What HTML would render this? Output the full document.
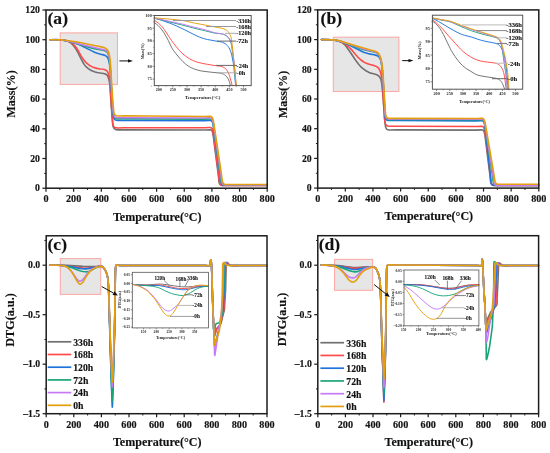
<!DOCTYPE html>
<html><head><meta charset="utf-8"><title>TGA/DTG</title>
<style>html,body{margin:0;padding:0;background:#fff;width:550px;height:453px;overflow:hidden}</style>
</head><body>
<svg width="550" height="453" viewBox="0 0 550 453" style="display:block;font-family:'Liberation Serif', 'Times New Roman', serif">
<rect width="550" height="453" fill="#fff"/>
<rect x="60.20" y="32.90" width="57.30" height="51.50" fill="#e6e6e6" stroke="#fbaaa6" stroke-width="1.05"/>
<path d="M50.10,39.70 L58.11,39.73 L60.50,39.84 L62.89,40.06 L65.26,40.46 L67.20,40.95 L68.69,41.53 L69.73,42.12 L71.01,43.07 L72.47,44.43 L73.79,45.93 L74.98,47.54 L76.27,49.57 L77.67,51.99 L80.82,58.47 L83.32,63.04 L84.17,64.39 L84.88,65.35 L85.67,66.26 L86.82,67.37 L88.38,68.61 L90.05,69.72 L91.80,70.68 L93.27,71.32 L95.16,71.98 L97.09,72.49 L100.25,73.04 L103.42,73.44 L104.58,73.71 L105.69,74.16 L106.37,74.56 L106.97,75.07 L107.46,75.68 L107.86,76.37 L108.17,77.10 L108.88,79.39 L109.37,81.74 L109.80,84.91 L110.07,88.10 L111.97,116.46 L112.81,124.82 L113.10,126.39 L113.52,127.50 L114.19,128.47 L114.78,128.99 L115.45,129.40 L116.18,129.68 L116.96,129.84 L118.15,129.92 L122.95,129.73 L203.80,129.98 L205.80,129.95 L209.40,129.78 L210.19,129.83 L210.94,130.01 L211.59,130.38 L211.86,130.65 L212.27,131.30 L212.65,132.42 L212.88,133.60 L213.41,137.16 L218.48,176.46 L218.99,181.64 L219.13,182.42 L219.35,183.19 L219.67,183.91 L220.12,184.54 L220.71,185.04 L221.05,185.22 L221.79,185.44 L222.57,185.50 L267.00,185.50" fill="none" stroke="#707070" stroke-width="1.60" stroke-linejoin="round" stroke-linecap="round"/>
<path d="M50.10,39.70 L58.50,39.75 L61.70,39.91 L63.69,40.10 L65.66,40.46 L67.20,40.88 L68.70,41.44 L70.49,42.33 L71.85,43.17 L73.11,44.15 L74.25,45.27 L75.30,46.48 L76.51,48.07 L77.63,49.73 L78.44,51.10 L80.93,55.67 L83.34,59.35 L84.31,60.63 L85.36,61.83 L86.50,62.96 L88.01,64.26 L89.30,65.21 L90.65,66.06 L91.72,66.62 L93.19,67.23 L95.09,67.87 L97.03,68.36 L100.18,68.93 L103.35,69.33 L104.51,69.59 L105.61,70.05 L106.29,70.47 L106.89,70.98 L107.40,71.58 L107.81,72.25 L108.14,72.98 L108.77,74.88 L109.29,77.22 L109.69,79.99 L110.14,84.77 L112.28,117.52 L112.77,123.10 L112.92,124.29 L113.20,125.45 L113.52,126.16 L113.73,126.48 L114.28,127.02 L114.95,127.41 L115.69,127.68 L116.87,127.90 L118.06,127.96 L123.26,127.79 L204.11,127.71 L209.30,127.48 L210.09,127.52 L210.86,127.67 L211.53,128.01 L211.81,128.26 L212.26,128.88 L212.68,129.99 L212.92,131.16 L213.50,135.12 L218.87,176.39 L219.37,181.57 L219.51,182.36 L219.72,183.12 L220.05,183.83 L220.51,184.46 L221.11,184.95 L221.81,185.25 L222.58,185.37 L223.38,185.40 L267.00,185.40" fill="none" stroke="#ff4a4a" stroke-width="1.60" stroke-linejoin="round" stroke-linecap="round"/>
<path d="M50.10,39.70 L58.10,39.73 L60.50,39.84 L62.49,40.03 L64.87,40.38 L66.83,40.77 L69.94,41.53 L73.02,42.40 L76.43,43.56 L80.11,45.12 L93.40,51.65 L95.23,52.47 L96.72,53.03 L98.25,53.52 L100.56,54.18 L103.27,54.86 L104.79,55.37 L106.19,56.11 L106.81,56.60 L107.33,57.19 L107.75,57.86 L108.09,58.58 L108.48,59.71 L108.92,61.25 L109.49,63.99 L110.00,67.56 L110.29,70.34 L110.52,73.54 L112.76,110.69 L113.32,115.46 L113.68,117.42 L113.90,118.19 L114.23,118.90 L114.69,119.50 L114.99,119.74 L115.68,120.09 L116.44,120.29 L117.62,120.45 L118.82,120.51 L124.02,120.41 L204.06,120.59 L209.26,120.41 L210.44,120.49 L211.18,120.70 L211.80,121.12 L212.05,121.40 L212.43,122.07 L212.79,123.21 L213.09,124.78 L213.66,128.33 L220.16,175.51 L220.76,181.08 L221.00,182.25 L221.26,183.00 L221.62,183.70 L222.10,184.32 L222.70,184.80 L223.05,184.97 L223.79,185.16 L224.58,185.22 L267.00,185.20" fill="none" stroke="#1f74dc" stroke-width="1.60" stroke-linejoin="round" stroke-linecap="round"/>
<path d="M50.10,39.70 L56.10,39.63 L59.30,39.75 L60.89,39.91 L62.87,40.21 L66.79,41.00 L70.68,41.92 L73.39,42.65 L86.80,46.67 L90.27,47.64 L93.39,48.35 L103.97,50.49 L105.09,50.90 L105.79,51.27 L106.75,51.97 L107.29,52.54 L107.74,53.19 L108.09,53.91 L108.57,55.42 L109.02,57.78 L109.61,61.74 L109.97,65.32 L110.48,72.10 L111.29,86.48 L112.57,105.64 L112.87,109.23 L113.53,114.39 L113.80,115.96 L114.02,116.73 L114.35,117.43 L114.83,118.02 L115.13,118.24 L115.84,118.55 L116.61,118.73 L117.79,118.86 L118.99,118.91 L124.19,118.82 L204.21,119.08 L209.40,118.92 L210.59,119.02 L211.31,119.26 L211.92,119.70 L212.36,120.32 L212.75,121.43 L213.07,123.00 L213.76,127.34 L220.51,174.87 L221.15,180.44 L221.38,181.61 L221.60,182.37 L222.10,183.46 L222.55,184.09 L223.13,184.59 L223.47,184.76 L224.21,184.96 L224.99,185.01 L267.00,185.00" fill="none" stroke="#19a676" stroke-width="1.60" stroke-linejoin="round" stroke-linecap="round"/>
<path d="M50.10,39.70 L56.10,39.64 L59.30,39.75 L62.88,40.17 L67.21,40.96 L72.29,42.09 L80.41,44.23 L89.74,46.52 L100.28,48.92 L103.80,49.66 L104.94,50.03 L105.66,50.36 L106.66,51.00 L107.24,51.54 L107.72,52.16 L108.09,52.86 L108.38,53.60 L108.70,54.75 L109.49,59.08 L109.93,62.66 L110.60,71.44 L111.30,85.03 L112.65,105.79 L113.04,110.18 L113.55,113.34 L114.00,115.28 L114.47,116.36 L114.96,116.94 L115.26,117.17 L115.96,117.48 L116.74,117.64 L117.93,117.77 L119.12,117.80 L123.13,117.73 L127.93,117.74 L203.97,118.07 L209.17,117.89 L210.35,117.96 L211.09,118.17 L211.43,118.35 L211.98,118.86 L212.20,119.17 L212.53,119.88 L212.98,121.41 L213.53,124.16 L220.95,175.25 L221.54,180.42 L221.77,181.59 L222.00,182.36 L222.49,183.44 L222.94,184.07 L223.52,184.58 L223.85,184.75 L224.59,184.95 L225.38,185.00 L267.00,185.00" fill="none" stroke="#c77af5" stroke-width="1.60" stroke-linejoin="round" stroke-linecap="round"/>
<path d="M50.10,39.70 L57.31,39.70 L61.70,39.92 L64.89,40.23 L68.47,40.67 L72.04,41.17 L75.99,41.82 L82.29,42.99 L90.52,44.70 L98.38,46.22 L102.68,47.15 L104.21,47.62 L105.28,48.14 L106.28,48.80 L107.16,49.61 L107.65,50.23 L108.06,50.91 L108.65,52.39 L109.39,55.50 L109.92,58.66 L110.26,61.84 L110.68,67.03 L111.52,81.82 L112.83,101.39 L113.25,106.58 L113.76,111.36 L114.03,112.93 L114.27,113.69 L114.63,114.38 L114.86,114.69 L115.44,115.19 L116.14,115.55 L116.89,115.77 L118.08,115.93 L119.28,115.98 L124.48,115.92 L150.50,116.00 L204.55,116.44 L209.35,116.30 L210.53,116.40 L211.27,116.63 L211.59,116.83 L212.14,117.35 L212.69,118.39 L213.15,119.92 L213.72,122.66 L221.60,175.32 L222.17,180.09 L222.41,181.26 L222.66,182.02 L222.99,182.74 L223.41,183.40 L223.95,183.95 L224.62,184.31 L225.37,184.46 L226.56,184.52 L267.00,184.50" fill="none" stroke="#e3a00c" stroke-width="1.60" stroke-linejoin="round" stroke-linecap="round"/>
<rect x="46.00" y="10.00" width="221.20" height="178.20" fill="none" stroke="#1c1c1c" stroke-width="1.50"/>
<line x1="46.00" y1="188.20" x2="46.00" y2="191.70" stroke="#1c1c1c" stroke-width="1.20"/>
<text x="46.00" y="202.40" font-size="10.20" text-anchor="middle" font-weight="bold" fill="#111" stroke="#111" stroke-width="0.15">0</text>
<line x1="59.83" y1="188.20" x2="59.83" y2="190.00" stroke="#1c1c1c" stroke-width="1.00"/>
<line x1="73.65" y1="188.20" x2="73.65" y2="191.70" stroke="#1c1c1c" stroke-width="1.20"/>
<text x="73.65" y="202.40" font-size="10.20" text-anchor="middle" font-weight="bold" fill="#111" stroke="#111" stroke-width="0.15">200</text>
<line x1="87.48" y1="188.20" x2="87.48" y2="190.00" stroke="#1c1c1c" stroke-width="1.00"/>
<line x1="101.30" y1="188.20" x2="101.30" y2="191.70" stroke="#1c1c1c" stroke-width="1.20"/>
<text x="101.30" y="202.40" font-size="10.20" text-anchor="middle" font-weight="bold" fill="#111" stroke="#111" stroke-width="0.15">400</text>
<line x1="115.12" y1="188.20" x2="115.12" y2="190.00" stroke="#1c1c1c" stroke-width="1.00"/>
<line x1="128.95" y1="188.20" x2="128.95" y2="191.70" stroke="#1c1c1c" stroke-width="1.20"/>
<text x="128.95" y="202.40" font-size="10.20" text-anchor="middle" font-weight="bold" fill="#111" stroke="#111" stroke-width="0.15">600</text>
<line x1="142.77" y1="188.20" x2="142.77" y2="190.00" stroke="#1c1c1c" stroke-width="1.00"/>
<line x1="156.60" y1="188.20" x2="156.60" y2="191.70" stroke="#1c1c1c" stroke-width="1.20"/>
<text x="156.60" y="202.40" font-size="10.20" text-anchor="middle" font-weight="bold" fill="#111" stroke="#111" stroke-width="0.15">600</text>
<line x1="170.42" y1="188.20" x2="170.42" y2="190.00" stroke="#1c1c1c" stroke-width="1.00"/>
<line x1="184.25" y1="188.20" x2="184.25" y2="191.70" stroke="#1c1c1c" stroke-width="1.20"/>
<text x="184.25" y="202.40" font-size="10.20" text-anchor="middle" font-weight="bold" fill="#111" stroke="#111" stroke-width="0.15">600</text>
<line x1="198.07" y1="188.20" x2="198.07" y2="190.00" stroke="#1c1c1c" stroke-width="1.00"/>
<line x1="211.90" y1="188.20" x2="211.90" y2="191.70" stroke="#1c1c1c" stroke-width="1.20"/>
<text x="211.90" y="202.40" font-size="10.20" text-anchor="middle" font-weight="bold" fill="#111" stroke="#111" stroke-width="0.15">800</text>
<line x1="225.72" y1="188.20" x2="225.72" y2="190.00" stroke="#1c1c1c" stroke-width="1.00"/>
<line x1="239.55" y1="188.20" x2="239.55" y2="191.70" stroke="#1c1c1c" stroke-width="1.20"/>
<text x="239.55" y="202.40" font-size="10.20" text-anchor="middle" font-weight="bold" fill="#111" stroke="#111" stroke-width="0.15">800</text>
<line x1="253.37" y1="188.20" x2="253.37" y2="190.00" stroke="#1c1c1c" stroke-width="1.00"/>
<line x1="267.20" y1="188.20" x2="267.20" y2="191.70" stroke="#1c1c1c" stroke-width="1.20"/>
<text x="267.20" y="202.40" font-size="10.20" text-anchor="middle" font-weight="bold" fill="#111" stroke="#111" stroke-width="0.15">800</text>
<line x1="42.40" y1="188.20" x2="46.00" y2="188.20" stroke="#1c1c1c" stroke-width="1.20"/>
<text transform="translate(40.00 191.45) scale(0.930 1)" font-size="10.51" text-anchor="end" font-weight="bold" fill="#111" stroke="#111" stroke-width="0.15">0</text>
<line x1="42.40" y1="158.50" x2="46.00" y2="158.50" stroke="#1c1c1c" stroke-width="1.20"/>
<text transform="translate(40.00 161.75) scale(0.930 1)" font-size="10.51" text-anchor="end" font-weight="bold" fill="#111" stroke="#111" stroke-width="0.15">20</text>
<line x1="42.40" y1="128.80" x2="46.00" y2="128.80" stroke="#1c1c1c" stroke-width="1.20"/>
<text transform="translate(40.00 132.05) scale(0.930 1)" font-size="10.51" text-anchor="end" font-weight="bold" fill="#111" stroke="#111" stroke-width="0.15">40</text>
<line x1="42.40" y1="99.10" x2="46.00" y2="99.10" stroke="#1c1c1c" stroke-width="1.20"/>
<text transform="translate(40.00 102.35) scale(0.930 1)" font-size="10.51" text-anchor="end" font-weight="bold" fill="#111" stroke="#111" stroke-width="0.15">60</text>
<line x1="42.40" y1="69.40" x2="46.00" y2="69.40" stroke="#1c1c1c" stroke-width="1.20"/>
<text transform="translate(40.00 72.65) scale(0.930 1)" font-size="10.51" text-anchor="end" font-weight="bold" fill="#111" stroke="#111" stroke-width="0.15">80</text>
<line x1="42.40" y1="39.70" x2="46.00" y2="39.70" stroke="#1c1c1c" stroke-width="1.20"/>
<text transform="translate(40.00 42.95) scale(0.930 1)" font-size="10.51" text-anchor="end" font-weight="bold" fill="#111" stroke="#111" stroke-width="0.15">100</text>
<line x1="42.40" y1="10.00" x2="46.00" y2="10.00" stroke="#1c1c1c" stroke-width="1.20"/>
<text transform="translate(40.00 13.25) scale(0.930 1)" font-size="10.51" text-anchor="end" font-weight="bold" fill="#111" stroke="#111" stroke-width="0.15">120</text>
<line x1="44.20" y1="173.35" x2="46.00" y2="173.35" stroke="#1c1c1c" stroke-width="1.00"/>
<line x1="44.20" y1="143.65" x2="46.00" y2="143.65" stroke="#1c1c1c" stroke-width="1.00"/>
<line x1="44.20" y1="113.95" x2="46.00" y2="113.95" stroke="#1c1c1c" stroke-width="1.00"/>
<line x1="44.20" y1="84.25" x2="46.00" y2="84.25" stroke="#1c1c1c" stroke-width="1.00"/>
<line x1="44.20" y1="54.55" x2="46.00" y2="54.55" stroke="#1c1c1c" stroke-width="1.00"/>
<line x1="44.20" y1="24.85" x2="46.00" y2="24.85" stroke="#1c1c1c" stroke-width="1.00"/>
<line x1="119.40" y1="60.90" x2="130.00" y2="60.90" stroke="#222" stroke-width="1.10"/>
<path d="M128.00,59.30 L133.00,60.90 L128.00,62.50 Z" fill="#111"/>
<text x="47.50" y="24.40" font-size="17.60" text-anchor="start" font-weight="bold" fill="#111" stroke="#111" stroke-width="0.15">(a)</text>
<text x="157.20" y="220.50" font-size="12.70" text-anchor="middle" font-weight="bold" fill="#111" stroke="#111" stroke-width="0.15" textLength="88.6" lengthAdjust="spacingAndGlyphs">Temperature(°C)</text>
<text x="14.60" y="94.00" font-size="12.20" text-anchor="middle" font-weight="bold" fill="#111" stroke="#111" stroke-width="0.15" transform="rotate(-90 14.60 94.00)">Mass(%)</text>
<rect x="333.30" y="37.20" width="65.60" height="54.30" fill="#e6e6e6" stroke="#fbaaa6" stroke-width="1.05"/>
<path d="M321.40,39.60 L330.60,39.76 L332.59,39.87 L334.58,40.11 L336.54,40.50 L338.85,41.13 L340.34,41.71 L342.09,42.67 L343.40,43.59 L344.31,44.36 L345.16,45.21 L346.20,46.42 L349.46,50.98 L354.98,59.31 L356.60,61.60 L358.03,63.52 L359.29,65.07 L360.37,66.26 L361.52,67.37 L362.72,68.42 L364.31,69.64 L365.97,70.75 L367.35,71.55 L369.15,72.42 L371.02,73.13 L372.55,73.58 L375.28,74.20 L376.78,74.75 L377.83,75.31 L378.47,75.77 L379.05,76.31 L379.56,76.93 L380.38,78.29 L380.96,79.77 L381.42,81.72 L381.93,84.88 L382.37,88.85 L383.02,96.42 L384.93,122.75 L385.36,125.52 L385.80,127.46 L386.26,128.55 L386.75,129.13 L387.05,129.36 L387.75,129.67 L388.52,129.83 L389.71,129.95 L390.91,129.99 L396.11,129.91 L476.11,130.08 L480.90,129.87 L481.70,129.89 L482.46,130.02 L483.14,130.33 L483.42,130.58 L483.65,130.87 L484.02,131.56 L484.50,133.07 L484.97,135.43 L490.14,176.70 L490.63,181.87 L490.79,182.65 L491.03,183.41 L491.39,184.11 L491.88,184.71 L492.50,185.16 L492.85,185.31 L493.61,185.48 L494.40,185.52 L538.80,185.50" fill="none" stroke="#707070" stroke-width="1.60" stroke-linejoin="round" stroke-linecap="round"/>
<path d="M321.40,39.60 L330.60,39.77 L333.00,39.91 L334.99,40.13 L336.56,40.41 L338.49,40.94 L340.36,41.63 L342.55,42.62 L344.31,43.58 L345.97,44.68 L347.55,45.91 L349.36,47.49 L350.79,48.89 L352.42,50.64 L355.70,54.68 L357.85,57.05 L360.17,59.26 L362.67,61.25 L363.67,61.92 L364.71,62.51 L365.79,63.03 L367.27,63.63 L369.18,64.24 L373.82,65.46 L375.70,66.13 L376.77,66.66 L377.43,67.10 L378.03,67.62 L378.56,68.21 L379.01,68.86 L379.59,69.91 L380.08,71.01 L380.48,72.14 L381.07,74.46 L381.68,78.01 L382.11,81.99 L382.75,89.97 L384.13,111.13 L384.50,118.32 L384.94,121.49 L385.33,123.45 L385.75,124.55 L386.19,125.19 L386.47,125.44 L387.13,125.82 L387.88,126.03 L389.47,126.23 L391.06,126.30 L395.06,126.24 L399.87,126.24 L475.90,126.57 L477.50,126.54 L481.09,126.36 L481.88,126.40 L482.63,126.57 L482.97,126.73 L483.52,127.22 L484.06,128.25 L484.53,129.77 L485.08,132.52 L490.49,176.20 L491.01,181.78 L491.16,182.56 L491.40,183.31 L491.76,184.01 L492.25,184.61 L492.88,185.05 L493.23,185.20 L493.99,185.36 L494.78,185.41 L538.80,185.40" fill="none" stroke="#ff4a4a" stroke-width="1.60" stroke-linejoin="round" stroke-linecap="round"/>
<path d="M321.40,39.60 L329.00,39.68 L332.60,39.87 L334.99,40.14 L336.96,40.44 L338.92,40.83 L340.86,41.33 L343.11,42.17 L346.74,43.84 L359.61,50.31 L363.61,52.15 L365.49,52.85 L367.80,53.50 L370.53,54.12 L374.07,54.77 L376.39,55.37 L377.13,55.67 L377.82,56.05 L378.45,56.53 L379.26,57.40 L380.12,58.74 L380.89,60.58 L381.39,62.52 L381.79,65.29 L382.37,70.86 L382.95,78.84 L384.50,109.22 L384.97,116.00 L385.18,117.59 L385.50,118.72 L385.89,119.38 L386.46,119.87 L387.16,120.18 L387.93,120.36 L389.92,120.53 L395.12,120.44 L475.96,120.86 L481.16,120.66 L481.95,120.71 L482.69,120.89 L483.03,121.06 L483.57,121.56 L483.78,121.88 L484.10,122.59 L484.51,124.13 L485.04,127.29 L490.42,176.22 L490.82,181.40 L490.94,182.19 L491.15,182.96 L491.46,183.68 L491.91,184.31 L492.50,184.79 L492.84,184.96 L493.59,185.16 L494.38,185.21 L538.80,185.20" fill="none" stroke="#1f74dc" stroke-width="1.60" stroke-linejoin="round" stroke-linecap="round"/>
<path d="M321.40,39.60 L328.21,39.61 L331.40,39.74 L333.00,39.91 L334.58,40.16 L337.70,40.86 L341.17,41.84 L344.99,43.04 L358.17,47.79 L361.58,48.94 L365.05,49.90 L374.02,52.00 L375.17,52.33 L376.28,52.79 L377.32,53.37 L377.96,53.84 L378.51,54.40 L378.98,55.04 L379.53,56.10 L379.96,57.22 L380.44,58.75 L380.85,60.29 L381.18,61.86 L381.77,65.82 L382.36,70.99 L382.96,78.17 L384.61,105.34 L384.79,111.34 L384.94,113.74 L385.16,115.32 L385.34,116.10 L385.60,116.85 L385.95,117.56 L386.40,118.21 L387.26,119.01 L388.31,119.52 L389.08,119.70 L389.87,119.76 L393.87,119.54 L395.47,119.52 L475.93,119.78 L481.13,119.58 L481.92,119.62 L482.68,119.79 L483.32,120.16 L483.79,120.74 L484.24,121.83 L484.58,123.39 L485.34,128.13 L492.43,175.65 L493.15,181.61 L493.53,183.15 L493.85,183.87 L494.30,184.50 L494.89,184.99 L495.23,185.16 L495.98,185.37 L496.77,185.43 L538.80,185.40" fill="none" stroke="#19a676" stroke-width="1.60" stroke-linejoin="round" stroke-linecap="round"/>
<path d="M321.40,39.60 L328.60,39.64 L331.80,39.79 L333.39,39.96 L335.36,40.26 L339.66,41.20 L343.14,42.13 L345.43,42.82 L357.93,47.07 L362.13,48.40 L367.53,49.89 L374.89,51.74 L376.00,52.18 L376.70,52.56 L377.67,53.25 L378.23,53.81 L378.72,54.44 L379.33,55.47 L379.82,56.56 L380.37,58.06 L380.70,59.21 L381.05,60.77 L381.76,65.11 L382.31,69.88 L382.81,75.86 L383.64,88.63 L384.62,105.40 L384.80,111.00 L384.95,113.40 L385.19,114.98 L385.38,115.75 L385.66,116.49 L386.03,117.19 L386.50,117.82 L387.39,118.59 L388.46,119.07 L389.23,119.22 L390.02,119.26 L393.62,119.05 L395.21,119.02 L475.62,119.28 L477.62,119.25 L481.21,119.08 L482.00,119.13 L482.75,119.31 L483.40,119.69 L483.66,119.96 L484.08,120.60 L484.48,121.72 L484.81,123.28 L485.56,127.62 L493.16,176.23 L493.80,181.39 L494.15,182.94 L494.45,183.67 L494.86,184.34 L495.40,184.89 L496.06,185.27 L496.81,185.46 L497.60,185.51 L538.80,185.50" fill="none" stroke="#c77af5" stroke-width="1.60" stroke-linejoin="round" stroke-linecap="round"/>
<path d="M321.40,39.60 L329.40,39.76 L332.60,39.88 L336.19,40.16 L338.55,40.56 L353.12,44.92 L363.44,48.10 L370.38,50.02 L375.04,51.19 L376.14,51.65 L376.83,52.04 L377.78,52.76 L378.33,53.33 L378.81,53.97 L379.42,55.00 L380.10,56.44 L380.53,57.56 L380.99,59.09 L381.37,60.65 L381.77,62.61 L382.08,64.58 L382.60,68.96 L382.99,73.74 L383.58,82.92 L385.02,107.69 L385.48,113.27 L385.79,115.25 L386.17,116.37 L386.58,117.04 L386.83,117.33 L387.43,117.82 L387.77,118.00 L388.51,118.26 L389.29,118.38 L390.09,118.42 L395.28,118.22 L475.71,118.48 L477.71,118.45 L480.91,118.29 L482.09,118.35 L482.84,118.54 L483.49,118.93 L483.76,119.19 L484.19,119.83 L484.63,120.94 L485.09,122.88 L485.91,127.21 L494.01,174.94 L494.78,180.49 L495.18,182.03 L495.50,182.75 L495.95,183.39 L496.53,183.89 L496.86,184.07 L497.60,184.27 L498.39,184.31 L538.80,184.30" fill="none" stroke="#e3a00c" stroke-width="1.60" stroke-linejoin="round" stroke-linecap="round"/>
<rect x="317.70" y="9.90" width="221.10" height="178.20" fill="none" stroke="#1c1c1c" stroke-width="1.50"/>
<line x1="317.70" y1="188.10" x2="317.70" y2="191.60" stroke="#1c1c1c" stroke-width="1.20"/>
<text x="317.70" y="202.30" font-size="10.20" text-anchor="middle" font-weight="bold" fill="#111" stroke="#111" stroke-width="0.15">0</text>
<line x1="331.52" y1="188.10" x2="331.52" y2="189.90" stroke="#1c1c1c" stroke-width="1.00"/>
<line x1="345.34" y1="188.10" x2="345.34" y2="191.60" stroke="#1c1c1c" stroke-width="1.20"/>
<text x="345.34" y="202.30" font-size="10.20" text-anchor="middle" font-weight="bold" fill="#111" stroke="#111" stroke-width="0.15">200</text>
<line x1="359.16" y1="188.10" x2="359.16" y2="189.90" stroke="#1c1c1c" stroke-width="1.00"/>
<line x1="372.97" y1="188.10" x2="372.97" y2="191.60" stroke="#1c1c1c" stroke-width="1.20"/>
<text x="372.97" y="202.30" font-size="10.20" text-anchor="middle" font-weight="bold" fill="#111" stroke="#111" stroke-width="0.15">400</text>
<line x1="386.79" y1="188.10" x2="386.79" y2="189.90" stroke="#1c1c1c" stroke-width="1.00"/>
<line x1="400.61" y1="188.10" x2="400.61" y2="191.60" stroke="#1c1c1c" stroke-width="1.20"/>
<text x="400.61" y="202.30" font-size="10.20" text-anchor="middle" font-weight="bold" fill="#111" stroke="#111" stroke-width="0.15">600</text>
<line x1="414.43" y1="188.10" x2="414.43" y2="189.90" stroke="#1c1c1c" stroke-width="1.00"/>
<line x1="428.25" y1="188.10" x2="428.25" y2="191.60" stroke="#1c1c1c" stroke-width="1.20"/>
<text x="428.25" y="202.30" font-size="10.20" text-anchor="middle" font-weight="bold" fill="#111" stroke="#111" stroke-width="0.15">600</text>
<line x1="442.07" y1="188.10" x2="442.07" y2="189.90" stroke="#1c1c1c" stroke-width="1.00"/>
<line x1="455.89" y1="188.10" x2="455.89" y2="191.60" stroke="#1c1c1c" stroke-width="1.20"/>
<text x="455.89" y="202.30" font-size="10.20" text-anchor="middle" font-weight="bold" fill="#111" stroke="#111" stroke-width="0.15">600</text>
<line x1="469.71" y1="188.10" x2="469.71" y2="189.90" stroke="#1c1c1c" stroke-width="1.00"/>
<line x1="483.52" y1="188.10" x2="483.52" y2="191.60" stroke="#1c1c1c" stroke-width="1.20"/>
<text x="483.52" y="202.30" font-size="10.20" text-anchor="middle" font-weight="bold" fill="#111" stroke="#111" stroke-width="0.15">800</text>
<line x1="497.34" y1="188.10" x2="497.34" y2="189.90" stroke="#1c1c1c" stroke-width="1.00"/>
<line x1="511.16" y1="188.10" x2="511.16" y2="191.60" stroke="#1c1c1c" stroke-width="1.20"/>
<text x="511.16" y="202.30" font-size="10.20" text-anchor="middle" font-weight="bold" fill="#111" stroke="#111" stroke-width="0.15">800</text>
<line x1="524.98" y1="188.10" x2="524.98" y2="189.90" stroke="#1c1c1c" stroke-width="1.00"/>
<line x1="538.80" y1="188.10" x2="538.80" y2="191.60" stroke="#1c1c1c" stroke-width="1.20"/>
<text x="538.80" y="202.30" font-size="10.20" text-anchor="middle" font-weight="bold" fill="#111" stroke="#111" stroke-width="0.15">800</text>
<line x1="314.10" y1="188.10" x2="317.70" y2="188.10" stroke="#1c1c1c" stroke-width="1.20"/>
<text transform="translate(311.70 191.35) scale(0.930 1)" font-size="10.51" text-anchor="end" font-weight="bold" fill="#111" stroke="#111" stroke-width="0.15">0</text>
<line x1="314.10" y1="158.40" x2="317.70" y2="158.40" stroke="#1c1c1c" stroke-width="1.20"/>
<text transform="translate(311.70 161.65) scale(0.930 1)" font-size="10.51" text-anchor="end" font-weight="bold" fill="#111" stroke="#111" stroke-width="0.15">20</text>
<line x1="314.10" y1="128.70" x2="317.70" y2="128.70" stroke="#1c1c1c" stroke-width="1.20"/>
<text transform="translate(311.70 131.95) scale(0.930 1)" font-size="10.51" text-anchor="end" font-weight="bold" fill="#111" stroke="#111" stroke-width="0.15">40</text>
<line x1="314.10" y1="99.00" x2="317.70" y2="99.00" stroke="#1c1c1c" stroke-width="1.20"/>
<text transform="translate(311.70 102.25) scale(0.930 1)" font-size="10.51" text-anchor="end" font-weight="bold" fill="#111" stroke="#111" stroke-width="0.15">60</text>
<line x1="314.10" y1="69.30" x2="317.70" y2="69.30" stroke="#1c1c1c" stroke-width="1.20"/>
<text transform="translate(311.70 72.55) scale(0.930 1)" font-size="10.51" text-anchor="end" font-weight="bold" fill="#111" stroke="#111" stroke-width="0.15">80</text>
<line x1="314.10" y1="39.60" x2="317.70" y2="39.60" stroke="#1c1c1c" stroke-width="1.20"/>
<text transform="translate(311.70 42.85) scale(0.930 1)" font-size="10.51" text-anchor="end" font-weight="bold" fill="#111" stroke="#111" stroke-width="0.15">100</text>
<line x1="314.10" y1="9.90" x2="317.70" y2="9.90" stroke="#1c1c1c" stroke-width="1.20"/>
<text transform="translate(311.70 13.15) scale(0.930 1)" font-size="10.51" text-anchor="end" font-weight="bold" fill="#111" stroke="#111" stroke-width="0.15">120</text>
<line x1="315.90" y1="173.25" x2="317.70" y2="173.25" stroke="#1c1c1c" stroke-width="1.00"/>
<line x1="315.90" y1="143.55" x2="317.70" y2="143.55" stroke="#1c1c1c" stroke-width="1.00"/>
<line x1="315.90" y1="113.85" x2="317.70" y2="113.85" stroke="#1c1c1c" stroke-width="1.00"/>
<line x1="315.90" y1="84.15" x2="317.70" y2="84.15" stroke="#1c1c1c" stroke-width="1.00"/>
<line x1="315.90" y1="54.45" x2="317.70" y2="54.45" stroke="#1c1c1c" stroke-width="1.00"/>
<line x1="315.90" y1="24.75" x2="317.70" y2="24.75" stroke="#1c1c1c" stroke-width="1.00"/>
<line x1="402.20" y1="60.60" x2="410.50" y2="60.60" stroke="#222" stroke-width="1.10"/>
<path d="M408.50,59.00 L413.50,60.60 L408.50,62.20 Z" fill="#111"/>
<text x="320.60" y="24.40" font-size="17.60" text-anchor="start" font-weight="bold" fill="#111" stroke="#111" stroke-width="0.15">(b)</text>
<text x="428.85" y="220.40" font-size="12.70" text-anchor="middle" font-weight="bold" fill="#111" stroke="#111" stroke-width="0.15" textLength="88.6" lengthAdjust="spacingAndGlyphs">Temperature(°C)</text>
<text x="286.90" y="94.50" font-size="12.20" text-anchor="middle" font-weight="bold" fill="#111" stroke="#111" stroke-width="0.15" transform="rotate(-90 286.90 94.50)">Mass(%)</text>
<rect x="154.30" y="15.50" width="96.90" height="70.10" fill="#fff" stroke="none"/>
<path d="M154.30,22.50 L156.84,24.46 L158.34,25.78 L160.27,27.82 L162.04,30.00 L164.10,32.97 L166.14,36.42 L168.22,40.31 L171.50,47.19 L172.49,48.93 L173.59,50.61 L176.02,53.80 L180.16,58.71 L182.93,61.61 L185.61,64.03 L186.87,65.02 L188.19,65.93 L189.55,66.77 L191.32,67.71 L192.78,68.38 L194.64,69.12 L198.09,70.20 L200.82,70.85 L203.99,71.35 L211.16,72.19 L219.54,73.01 L221.49,73.44 L223.36,74.14 L224.76,74.91 L225.70,75.63 L226.80,76.79 L227.71,78.10 L228.65,79.86 L229.25,81.34 L229.72,82.88 L230.40,85.60" fill="none" stroke="#707070" stroke-width="0.95" stroke-linejoin="round" stroke-linecap="round"/>
<path d="M154.30,20.20 L156.92,22.04 L158.50,23.28 L160.58,25.15 L162.24,26.89 L163.26,28.12 L164.44,29.74 L169.70,37.79 L171.73,40.77 L173.87,43.67 L176.35,46.82 L179.48,50.47 L181.68,52.80 L184.07,54.93 L186.96,57.09 L189.67,58.80 L192.50,60.30 L195.08,61.40 L197.74,62.28 L201.62,63.26 L207.53,64.37 L213.85,65.42 L219.02,66.02 L220.60,66.30 L222.13,66.74 L223.25,67.18 L224.31,67.72 L225.29,68.39 L226.15,69.21 L227.10,70.47 L227.88,71.87 L228.86,74.06 L229.43,75.56 L230.03,77.47 L232.20,85.60" fill="none" stroke="#ff4a4a" stroke-width="0.95" stroke-linejoin="round" stroke-linecap="round"/>
<path d="M154.30,18.30 L158.18,19.26 L162.01,20.41 L169.94,23.21 L173.30,24.50 L176.23,25.79 L183.11,29.02 L193.11,34.07 L197.07,36.00 L199.26,36.98 L201.12,37.70 L204.55,38.80 L207.66,39.56 L215.14,40.92 L219.49,41.60 L221.43,42.03 L222.57,42.41 L224.02,43.06 L225.39,43.87 L226.35,44.59 L227.22,45.41 L228.24,46.63 L228.90,47.62 L229.66,49.03 L230.31,50.49 L230.87,51.99 L231.44,53.90 L231.92,55.84 L233.07,61.73 L233.86,67.28 L234.48,72.84 L235.60,85.60" fill="none" stroke="#1f74dc" stroke-width="0.95" stroke-linejoin="round" stroke-linecap="round"/>
<path d="M154.30,18.00 L167.87,21.52 L183.03,25.24 L195.04,28.40 L205.94,30.99 L212.54,32.66 L215.68,33.28 L220.86,33.74 L222.82,34.10 L223.96,34.48 L225.04,34.98 L226.06,35.59 L227.02,36.31 L227.89,37.13 L228.66,38.04 L229.32,39.03 L229.88,40.09 L230.49,41.56 L230.99,43.08 L231.40,44.63 L231.72,46.20 L233.48,58.89 L234.31,65.64 L234.61,68.83 L235.90,85.60" fill="none" stroke="#19a676" stroke-width="0.95" stroke-linejoin="round" stroke-linecap="round"/>
<path d="M154.30,18.00 L168.42,21.02 L182.92,24.21 L194.94,27.38 L205.48,29.87 L207.79,30.54 L212.75,32.15 L215.07,32.79 L216.64,33.10 L221.01,33.71 L222.58,34.02 L224.11,34.49 L225.20,34.98 L226.58,35.78 L227.53,36.51 L228.39,37.33 L228.91,37.94 L229.58,38.92 L230.14,39.98 L230.73,41.47 L231.22,43.00 L231.62,44.55 L231.93,46.12 L233.83,60.03 L234.55,66.01 L236.10,85.60" fill="none" stroke="#c77af5" stroke-width="0.95" stroke-linejoin="round" stroke-linecap="round"/>
<path d="M154.30,17.90 L167.90,18.95 L180.27,20.17 L183.45,20.61 L186.20,21.16 L192.84,22.72 L195.59,23.31 L205.85,25.18 L214.90,26.97 L219.64,27.79 L221.21,28.12 L223.13,28.67 L225.00,29.40 L226.40,30.16 L227.35,30.88 L227.93,31.42 L228.70,32.33 L229.37,33.32 L229.95,34.38 L230.43,35.47 L230.83,36.60 L231.14,37.76 L231.44,39.34 L232.25,45.30 L233.33,56.88 L234.80,71.25 L236.40,85.60" fill="none" stroke="#e3a00c" stroke-width="0.95" stroke-linejoin="round" stroke-linecap="round"/>
<rect x="154.30" y="15.50" width="96.90" height="70.10" fill="none" stroke="#555" stroke-width="1.00"/>
<line x1="158.70" y1="85.60" x2="158.70" y2="87.40" stroke="#555" stroke-width="0.70"/>
<text x="158.70" y="91.39" font-size="4.10" text-anchor="middle" font-weight="bold" fill="#222">200</text>
<line x1="172.83" y1="85.60" x2="172.83" y2="87.40" stroke="#555" stroke-width="0.70"/>
<text x="172.83" y="91.39" font-size="4.10" text-anchor="middle" font-weight="bold" fill="#222">250</text>
<line x1="186.97" y1="85.60" x2="186.97" y2="87.40" stroke="#555" stroke-width="0.70"/>
<text x="186.97" y="91.39" font-size="4.10" text-anchor="middle" font-weight="bold" fill="#222">300</text>
<line x1="201.10" y1="85.60" x2="201.10" y2="87.40" stroke="#555" stroke-width="0.70"/>
<text x="201.10" y="91.39" font-size="4.10" text-anchor="middle" font-weight="bold" fill="#222">350</text>
<line x1="215.23" y1="85.60" x2="215.23" y2="87.40" stroke="#555" stroke-width="0.70"/>
<text x="215.23" y="91.39" font-size="4.10" text-anchor="middle" font-weight="bold" fill="#222">400</text>
<line x1="229.37" y1="85.60" x2="229.37" y2="87.40" stroke="#555" stroke-width="0.70"/>
<text x="229.37" y="91.39" font-size="4.10" text-anchor="middle" font-weight="bold" fill="#222">450</text>
<line x1="243.50" y1="85.60" x2="243.50" y2="87.40" stroke="#555" stroke-width="0.70"/>
<text x="243.50" y="91.39" font-size="4.10" text-anchor="middle" font-weight="bold" fill="#222">500</text>
<line x1="165.77" y1="85.60" x2="165.77" y2="86.68" stroke="#555" stroke-width="0.60"/>
<line x1="179.90" y1="85.60" x2="179.90" y2="86.68" stroke="#555" stroke-width="0.60"/>
<line x1="194.03" y1="85.60" x2="194.03" y2="86.68" stroke="#555" stroke-width="0.60"/>
<line x1="208.17" y1="85.60" x2="208.17" y2="86.68" stroke="#555" stroke-width="0.60"/>
<line x1="222.30" y1="85.60" x2="222.30" y2="86.68" stroke="#555" stroke-width="0.60"/>
<line x1="236.43" y1="85.60" x2="236.43" y2="86.68" stroke="#555" stroke-width="0.60"/>
<line x1="151.63" y1="85.60" x2="151.63" y2="86.68" stroke="#555" stroke-width="0.60"/>
<line x1="152.50" y1="15.50" x2="154.30" y2="15.50" stroke="#555" stroke-width="0.70"/>
<text x="151.70" y="16.89" font-size="4.10" text-anchor="end" font-weight="bold" fill="#222">100</text>
<line x1="152.50" y1="28.20" x2="154.30" y2="28.20" stroke="#555" stroke-width="0.70"/>
<text x="151.70" y="29.59" font-size="4.10" text-anchor="end" font-weight="bold" fill="#222">95</text>
<line x1="152.50" y1="41.00" x2="154.30" y2="41.00" stroke="#555" stroke-width="0.70"/>
<text x="151.70" y="42.39" font-size="4.10" text-anchor="end" font-weight="bold" fill="#222">90</text>
<line x1="152.50" y1="53.60" x2="154.30" y2="53.60" stroke="#555" stroke-width="0.70"/>
<text x="151.70" y="54.99" font-size="4.10" text-anchor="end" font-weight="bold" fill="#222">85</text>
<line x1="152.50" y1="66.30" x2="154.30" y2="66.30" stroke="#555" stroke-width="0.70"/>
<text x="151.70" y="67.69" font-size="4.10" text-anchor="end" font-weight="bold" fill="#222">80</text>
<line x1="152.50" y1="79.10" x2="154.30" y2="79.10" stroke="#555" stroke-width="0.70"/>
<text x="151.70" y="80.49" font-size="4.10" text-anchor="end" font-weight="bold" fill="#222">75</text>
<line x1="153.22" y1="21.85" x2="154.30" y2="21.85" stroke="#555" stroke-width="0.60"/>
<line x1="153.22" y1="34.60" x2="154.30" y2="34.60" stroke="#555" stroke-width="0.60"/>
<line x1="153.22" y1="47.30" x2="154.30" y2="47.30" stroke="#555" stroke-width="0.60"/>
<line x1="153.22" y1="60.00" x2="154.30" y2="60.00" stroke="#555" stroke-width="0.60"/>
<line x1="153.22" y1="72.70" x2="154.30" y2="72.70" stroke="#555" stroke-width="0.60"/>
<text x="202.70" y="98.80" font-size="4.80" text-anchor="middle" font-weight="bold" fill="#222">Temperature(°C)</text>
<text x="144.10" y="51.30" font-size="4.10" text-anchor="middle" font-weight="bold" fill="#222" transform="rotate(-90 144.10 51.30)">Mass(%)</text>
<line x1="173.00" y1="20.50" x2="236.00" y2="20.50" stroke="#999" stroke-width="1.00"/>
<line x1="206.00" y1="26.50" x2="236.00" y2="26.50" stroke="#999" stroke-width="1.00"/>
<line x1="225.00" y1="33.30" x2="236.00" y2="33.30" stroke="#aaa" stroke-width="1.00"/>
<line x1="217.00" y1="41.10" x2="236.00" y2="41.10" stroke="#666" stroke-width="1.00"/>
<line x1="216.00" y1="65.40" x2="237.00" y2="65.40" stroke="#666" stroke-width="1.00"/>
<line x1="217.00" y1="72.80" x2="237.00" y2="72.80" stroke="#aaa" stroke-width="1.00"/>
<text x="236.20" y="22.61" font-size="6.20" text-anchor="start" font-weight="bold" fill="#111" stroke="#111" stroke-width="0.09">-336h</text>
<text x="236.20" y="28.61" font-size="6.20" text-anchor="start" font-weight="bold" fill="#111" stroke="#111" stroke-width="0.09">-168h</text>
<text x="236.20" y="35.41" font-size="6.20" text-anchor="start" font-weight="bold" fill="#111" stroke="#111" stroke-width="0.09">-120h</text>
<text x="236.20" y="43.21" font-size="6.20" text-anchor="start" font-weight="bold" fill="#111" stroke="#111" stroke-width="0.09">-72h</text>
<text x="236.60" y="67.51" font-size="6.20" text-anchor="start" font-weight="bold" fill="#111" stroke="#111" stroke-width="0.09">-24h</text>
<text x="236.60" y="74.91" font-size="6.20" text-anchor="start" font-weight="bold" fill="#111" stroke="#111" stroke-width="0.09">-0h</text>
<rect x="432.40" y="15.20" width="90.30" height="74.00" fill="#fff" stroke="none"/>
<path d="M432.40,21.00 L435.50,23.54 L436.97,24.89 L438.57,26.68 L439.98,28.62 L441.90,31.67 L443.46,34.47 L450.07,48.19 L451.37,50.67 L452.58,52.74 L454.99,56.44 L457.82,60.32 L460.11,63.11 L462.33,65.41 L464.44,67.25 L466.72,68.88 L470.16,70.92 L474.23,73.48 L475.64,74.24 L477.11,74.87 L479.02,75.46 L481.76,76.04 L486.10,76.77 L493.24,77.78 L495.61,78.19 L497.15,78.61 L498.60,79.25 L499.61,79.88 L500.52,80.65 L501.05,81.24 L501.72,82.21 L502.29,83.27 L503.11,85.09 L504.70,89.20" fill="none" stroke="#707070" stroke-width="0.95" stroke-linejoin="round" stroke-linecap="round"/>
<path d="M432.40,19.50 L437.58,23.91 L439.61,25.83 L441.57,27.83 L443.46,29.90 L449.19,36.59 L455.39,43.39 L459.09,47.59 L460.47,49.04 L461.91,50.43 L463.73,51.99 L465.93,53.72 L467.88,55.12 L470.24,56.63 L473.04,58.19 L475.56,59.39 L477.81,60.23 L480.51,60.97 L483.25,61.52 L487.61,62.14 L492.78,62.68 L495.14,63.11 L496.67,63.54 L497.78,63.99 L498.80,64.59 L499.73,65.33 L500.28,65.90 L501.04,66.82 L502.10,68.50 L502.92,70.32 L503.64,72.61 L504.21,74.94 L504.58,76.90 L506.20,89.20" fill="none" stroke="#ff4a4a" stroke-width="0.95" stroke-linejoin="round" stroke-linecap="round"/>
<path d="M432.40,18.30 L435.99,20.10 L438.45,21.44 L449.80,28.24 L453.28,30.24 L457.88,32.69 L460.80,34.03 L462.68,34.72 L464.60,35.30 L471.98,37.18 L477.64,39.20 L481.48,40.37 L484.21,41.02 L492.86,42.74 L495.98,43.46 L497.11,43.87 L497.82,44.21 L498.82,44.86 L499.41,45.38 L500.19,46.28 L501.05,47.62 L501.98,49.39 L502.81,51.22 L503.38,52.72 L503.98,54.63 L504.90,58.53 L505.68,62.87 L506.38,68.04 L507.65,80.41 L508.40,89.20" fill="none" stroke="#1f74dc" stroke-width="0.95" stroke-linejoin="round" stroke-linecap="round"/>
<path d="M432.40,18.00 L439.42,19.66 L446.91,21.05 L448.48,21.40 L450.02,21.84 L451.54,22.35 L453.40,23.10 L459.97,26.09 L465.51,28.44 L468.85,29.79 L471.48,30.78 L475.66,32.17 L481.05,33.74 L484.93,34.77 L491.56,36.35 L495.04,37.32 L496.17,37.70 L497.26,38.19 L497.93,38.60 L498.53,39.10 L499.07,39.68 L499.76,40.65 L500.15,41.34 L500.63,42.44 L501.34,44.73 L502.01,47.86 L505.92,74.45 L507.50,89.20" fill="none" stroke="#19a676" stroke-width="0.95" stroke-linejoin="round" stroke-linecap="round"/>
<path d="M432.40,18.00 L441.06,19.72 L446.98,20.79 L448.94,21.24 L450.87,21.79 L453.51,22.73 L461.71,26.00 L471.54,29.51 L480.32,32.36 L495.66,37.05 L497.11,37.71 L497.76,38.14 L498.35,38.66 L499.12,39.57 L499.73,40.59 L500.22,41.68 L500.74,43.19 L501.42,45.50 L502.00,47.84 L502.88,51.76 L503.50,54.91 L504.00,58.08 L505.50,70.02 L507.30,89.20" fill="none" stroke="#c77af5" stroke-width="0.95" stroke-linejoin="round" stroke-linecap="round"/>
<path d="M432.40,17.90 L440.66,19.53 L447.79,20.63 L449.35,20.96 L450.90,21.38 L453.93,22.43 L461.39,25.37 L471.22,28.80 L481.52,32.13 L495.32,36.34 L496.44,36.77 L497.15,37.13 L498.15,37.78 L498.76,38.28 L499.58,39.14 L500.28,40.11 L500.84,41.16 L501.29,42.27 L502.43,46.11 L504.36,53.48 L504.88,55.82 L505.68,60.16 L506.81,66.88 L507.87,74.01 L508.19,77.20 L509.00,89.20" fill="none" stroke="#e3a00c" stroke-width="0.95" stroke-linejoin="round" stroke-linecap="round"/>
<rect x="432.40" y="15.20" width="90.30" height="74.00" fill="none" stroke="#555" stroke-width="1.00"/>
<line x1="436.60" y1="89.20" x2="436.60" y2="91.00" stroke="#555" stroke-width="0.70"/>
<text x="436.60" y="95.06" font-size="4.20" text-anchor="middle" font-weight="bold" fill="#222">200</text>
<line x1="449.75" y1="89.20" x2="449.75" y2="91.00" stroke="#555" stroke-width="0.70"/>
<text x="449.75" y="95.06" font-size="4.20" text-anchor="middle" font-weight="bold" fill="#222">250</text>
<line x1="462.90" y1="89.20" x2="462.90" y2="91.00" stroke="#555" stroke-width="0.70"/>
<text x="462.90" y="95.06" font-size="4.20" text-anchor="middle" font-weight="bold" fill="#222">300</text>
<line x1="476.05" y1="89.20" x2="476.05" y2="91.00" stroke="#555" stroke-width="0.70"/>
<text x="476.05" y="95.06" font-size="4.20" text-anchor="middle" font-weight="bold" fill="#222">350</text>
<line x1="489.20" y1="89.20" x2="489.20" y2="91.00" stroke="#555" stroke-width="0.70"/>
<text x="489.20" y="95.06" font-size="4.20" text-anchor="middle" font-weight="bold" fill="#222">400</text>
<line x1="502.35" y1="89.20" x2="502.35" y2="91.00" stroke="#555" stroke-width="0.70"/>
<text x="502.35" y="95.06" font-size="4.20" text-anchor="middle" font-weight="bold" fill="#222">450</text>
<line x1="515.50" y1="89.20" x2="515.50" y2="91.00" stroke="#555" stroke-width="0.70"/>
<text x="515.50" y="95.06" font-size="4.20" text-anchor="middle" font-weight="bold" fill="#222">500</text>
<line x1="443.18" y1="89.20" x2="443.18" y2="90.28" stroke="#555" stroke-width="0.60"/>
<line x1="456.32" y1="89.20" x2="456.32" y2="90.28" stroke="#555" stroke-width="0.60"/>
<line x1="469.48" y1="89.20" x2="469.48" y2="90.28" stroke="#555" stroke-width="0.60"/>
<line x1="482.62" y1="89.20" x2="482.62" y2="90.28" stroke="#555" stroke-width="0.60"/>
<line x1="495.77" y1="89.20" x2="495.77" y2="90.28" stroke="#555" stroke-width="0.60"/>
<line x1="508.93" y1="89.20" x2="508.93" y2="90.28" stroke="#555" stroke-width="0.60"/>
<line x1="430.60" y1="28.30" x2="432.40" y2="28.30" stroke="#555" stroke-width="0.70"/>
<text x="429.80" y="29.73" font-size="4.20" text-anchor="end" font-weight="bold" fill="#222">95</text>
<line x1="430.60" y1="41.70" x2="432.40" y2="41.70" stroke="#555" stroke-width="0.70"/>
<text x="429.80" y="43.13" font-size="4.20" text-anchor="end" font-weight="bold" fill="#222">90</text>
<line x1="430.60" y1="55.10" x2="432.40" y2="55.10" stroke="#555" stroke-width="0.70"/>
<text x="429.80" y="56.53" font-size="4.20" text-anchor="end" font-weight="bold" fill="#222">85</text>
<line x1="430.60" y1="68.50" x2="432.40" y2="68.50" stroke="#555" stroke-width="0.70"/>
<text x="429.80" y="69.93" font-size="4.20" text-anchor="end" font-weight="bold" fill="#222">80</text>
<line x1="430.60" y1="81.80" x2="432.40" y2="81.80" stroke="#555" stroke-width="0.70"/>
<text x="429.80" y="83.23" font-size="4.20" text-anchor="end" font-weight="bold" fill="#222">75</text>
<line x1="431.32" y1="21.60" x2="432.40" y2="21.60" stroke="#555" stroke-width="0.60"/>
<line x1="431.32" y1="35.00" x2="432.40" y2="35.00" stroke="#555" stroke-width="0.60"/>
<line x1="431.32" y1="48.40" x2="432.40" y2="48.40" stroke="#555" stroke-width="0.60"/>
<line x1="431.32" y1="61.80" x2="432.40" y2="61.80" stroke="#555" stroke-width="0.60"/>
<line x1="431.32" y1="75.20" x2="432.40" y2="75.20" stroke="#555" stroke-width="0.60"/>
<text x="474.50" y="102.80" font-size="4.20" text-anchor="middle" font-weight="bold" fill="#222">Temperature(°C)</text>
<text x="421.00" y="50.50" font-size="4.60" text-anchor="middle" font-weight="bold" fill="#222" transform="rotate(-90 421.00 50.50)">Mass(%)</text>
<line x1="462.00" y1="24.90" x2="507.00" y2="24.90" stroke="#bbb" stroke-width="1.00"/>
<line x1="476.00" y1="30.60" x2="507.00" y2="30.60" stroke="#888" stroke-width="1.00"/>
<line x1="498.00" y1="37.80" x2="507.00" y2="37.80" stroke="#bbb" stroke-width="1.00"/>
<line x1="497.00" y1="43.40" x2="507.00" y2="43.40" stroke="#777" stroke-width="1.00"/>
<line x1="495.40" y1="63.20" x2="508.00" y2="63.20" stroke="#bbb" stroke-width="1.00"/>
<line x1="492.00" y1="78.70" x2="508.00" y2="78.70" stroke="#666" stroke-width="1.00"/>
<text x="506.20" y="27.44" font-size="6.60" text-anchor="start" font-weight="bold" fill="#111" stroke="#111" stroke-width="0.10">-336h</text>
<text x="506.20" y="33.24" font-size="6.60" text-anchor="start" font-weight="bold" fill="#111" stroke="#111" stroke-width="0.10">-168h</text>
<text x="506.20" y="40.34" font-size="6.60" text-anchor="start" font-weight="bold" fill="#111" stroke="#111" stroke-width="0.10">-120h</text>
<text x="506.40" y="45.84" font-size="6.60" text-anchor="start" font-weight="bold" fill="#111" stroke="#111" stroke-width="0.10">-72h</text>
<text x="507.80" y="65.54" font-size="6.60" text-anchor="start" font-weight="bold" fill="#111" stroke="#111" stroke-width="0.10">-24h</text>
<text x="508.00" y="80.94" font-size="6.60" text-anchor="start" font-weight="bold" fill="#111" stroke="#111" stroke-width="0.10">-0h</text>
<rect x="60.30" y="258.60" width="40.40" height="35.80" fill="#e6e6e6" stroke="#fbaaa6" stroke-width="1.05"/>
<path d="M50.10,265.00 L54.90,265.10 L59.69,265.30 L65.69,265.39 L70.89,265.55 L75.29,265.80 L82.86,266.39 L87.26,266.59 L89.66,266.60 L92.86,266.51 L97.25,266.28 L99.64,266.07 L100.84,266.06 L101.62,266.21 L101.98,266.36 L102.61,266.84 L104.43,268.97 L105.10,269.96 L105.66,271.02 L106.14,272.12 L106.68,273.62 L107.14,275.16 L107.50,276.71 L107.85,278.68 L108.06,280.27 L108.38,284.66 L108.67,291.05 L110.67,353.42 L111.42,373.81 L112.20,391.80 L112.30,392.75 L112.40,391.82 L113.24,372.23 L114.48,331.05 L114.80,314.65 L115.36,273.05 L115.59,267.46 L115.82,266.28 L116.10,265.54 L116.32,265.22 L116.61,264.99 L116.97,264.91 L119.70,265.45 L121.69,265.56 L126.49,265.50 L204.50,265.50 L208.48,265.75 L209.26,265.61 L209.59,265.43 L209.85,265.15 L210.02,264.80 L210.34,263.23 L210.64,260.45 L210.79,259.86 L210.90,259.97 L211.00,260.29 L211.23,261.87 L211.42,263.86 L211.57,266.66 L212.59,299.84 L213.55,323.83 L213.69,328.62 L213.91,331.01 L214.21,333.40 L214.47,334.54 L214.64,334.77 L214.84,334.70 L215.00,334.40 L215.92,330.52 L216.49,329.03 L216.91,328.35 L217.41,327.73 L219.35,325.71 L220.12,324.79 L220.54,324.11 L221.04,323.02 L221.59,321.10 L222.42,317.19 L223.72,312.57 L224.26,310.23 L224.53,307.85 L224.72,303.45 L225.60,289.88 L226.14,264.69 L226.26,263.50 L226.38,263.13 L226.59,262.82 L226.91,262.64 L227.27,262.61 L227.62,262.74 L227.92,262.98 L228.91,264.23 L229.21,264.49 L229.89,264.89 L231.03,265.27 L233.00,265.57 L235.00,265.61 L239.40,265.50 L267.00,265.50" fill="none" stroke="#707070" stroke-width="1.60" stroke-linejoin="round" stroke-linecap="round"/>
<path d="M50.10,265.00 L56.10,265.14 L62.89,265.44 L65.29,265.61 L68.86,266.02 L79.54,267.64 L82.72,268.01 L85.11,268.19 L86.31,268.18 L87.90,268.04 L89.88,267.76 L95.80,266.75 L99.77,266.23 L100.96,266.20 L101.74,266.35 L102.10,266.51 L102.43,266.73 L103.00,267.28 L103.81,268.17 L104.54,269.12 L105.19,270.13 L105.74,271.19 L106.35,272.67 L106.86,274.19 L107.28,275.73 L107.62,277.29 L108.07,280.46 L108.41,285.25 L108.66,290.84 L110.13,338.42 L111.29,372.00 L112.19,393.59 L112.24,394.37 L112.27,394.66 L112.32,394.68 L113.25,373.64 L114.49,331.66 L114.81,314.46 L115.29,276.46 L115.48,269.26 L115.57,267.67 L115.76,266.49 L116.01,265.73 L116.20,265.38 L116.45,265.10 L116.78,264.94 L117.15,264.92 L119.49,265.42 L120.28,265.52 L121.48,265.56 L126.68,265.50 L204.29,265.50 L205.49,265.52 L207.87,265.74 L208.67,265.74 L209.06,265.68 L209.42,265.54 L209.73,265.30 L209.94,264.99 L210.16,264.23 L210.38,263.05 L210.67,260.27 L210.74,259.96 L210.85,259.87 L211.04,260.48 L211.34,262.86 L211.58,266.85 L212.59,299.63 L213.69,328.41 L214.20,333.99 L214.39,335.17 L214.49,335.54 L214.65,335.76 L214.83,335.69 L214.98,335.38 L215.82,331.48 L216.34,329.97 L217.15,328.59 L219.10,326.06 L219.79,325.08 L220.19,324.38 L220.66,323.28 L221.19,321.36 L221.95,317.43 L223.22,312.39 L223.69,310.04 L223.94,307.65 L224.14,303.25 L225.00,290.08 L225.53,264.89 L225.62,263.69 L225.71,263.31 L225.87,262.96 L226.14,262.71 L226.49,262.60 L226.85,262.66 L227.18,262.85 L227.45,263.13 L228.45,264.37 L229.11,264.81 L229.85,265.11 L230.62,265.31 L232.60,265.58 L234.20,265.62 L239.00,265.50 L267.00,265.50" fill="none" stroke="#ff4a4a" stroke-width="1.60" stroke-linejoin="round" stroke-linecap="round"/>
<path d="M50.10,265.00 L58.10,265.23 L62.49,265.48 L65.28,265.74 L68.06,266.11 L70.43,266.51 L79.85,268.37 L82.62,268.78 L84.22,268.89 L85.81,268.85 L87.80,268.63 L95.63,266.97 L100.38,266.27 L101.17,266.24 L101.94,266.43 L102.28,266.63 L103.42,267.74 L104.20,268.66 L104.89,269.63 L105.84,271.39 L106.43,272.88 L106.93,274.40 L107.34,275.95 L107.73,277.91 L107.96,279.49 L108.17,281.48 L108.52,287.47 L110.67,362.28 L111.39,384.68 L112.19,405.87 L112.29,407.24 L112.41,405.94 L113.22,384.35 L114.48,337.14 L114.81,317.54 L115.35,273.52 L115.59,267.52 L115.80,266.34 L116.07,265.60 L116.28,265.26 L116.56,265.02 L116.91,264.91 L117.29,264.93 L119.64,265.45 L121.63,265.56 L126.43,265.50 L204.47,265.50 L205.67,265.53 L208.46,265.75 L209.23,265.62 L209.57,265.45 L209.84,265.17 L210.01,264.82 L210.40,262.86 L210.69,260.10 L210.78,259.87 L210.90,259.96 L211.07,260.66 L211.31,262.64 L211.55,266.24 L211.77,271.84 L212.59,299.84 L213.71,327.83 L214.27,338.62 L214.46,345.02 L214.53,345.81 L214.62,346.14 L214.76,346.26 L214.90,346.06 L215.11,345.31 L216.17,340.22 L220.04,324.27 L221.67,316.44 L222.63,312.14 L223.03,309.78 L223.21,307.78 L223.43,303.39 L224.29,290.21 L224.82,267.41 L224.83,265.01 L224.90,263.81 L225.11,263.06 L225.35,262.77 L225.68,262.62 L226.05,262.63 L226.39,262.78 L226.68,263.04 L227.67,264.29 L228.31,264.76 L229.04,265.07 L229.81,265.28 L231.79,265.57 L233.39,265.60 L237.39,265.50 L267.00,265.50" fill="none" stroke="#1f74dc" stroke-width="1.60" stroke-linejoin="round" stroke-linecap="round"/>
<path d="M50.10,265.00 L54.90,265.10 L58.90,265.26 L62.48,265.59 L65.65,266.08 L68.38,266.70 L71.07,267.49 L72.58,268.01 L77.79,270.07 L80.07,270.81 L81.62,271.19 L83.20,271.48 L85.18,271.75 L86.38,271.83 L87.17,271.79 L87.96,271.66 L88.74,271.46 L89.86,271.05 L90.94,270.52 L92.66,269.50 L94.42,268.55 L95.86,267.86 L97.35,267.27 L100.42,266.37 L101.21,266.28 L101.60,266.32 L101.97,266.44 L102.61,266.89 L103.96,268.36 L105.12,270.00 L105.85,271.42 L106.44,272.91 L106.93,274.43 L107.34,275.97 L107.73,277.94 L107.97,279.52 L108.17,281.51 L108.53,287.50 L110.66,358.29 L111.40,380.29 L112.21,400.28 L112.29,401.24 L112.41,399.94 L113.23,379.14 L114.48,334.35 L114.80,316.74 L115.36,273.13 L115.50,268.74 L115.64,267.14 L115.80,266.36 L116.07,265.61 L116.27,265.28 L116.55,265.02 L116.90,264.91 L117.28,264.93 L119.62,265.44 L121.61,265.56 L126.41,265.50 L204.44,265.50 L205.64,265.53 L208.43,265.75 L209.21,265.63 L209.55,265.46 L209.82,265.19 L210.00,264.85 L210.40,262.89 L210.69,260.13 L210.77,259.88 L210.89,259.94 L211.12,261.03 L211.39,263.41 L211.72,270.60 L212.59,299.80 L213.55,323.79 L213.50,328.59 L213.59,329.38 L213.72,329.74 L213.96,329.99 L214.30,330.06 L214.62,329.94 L214.84,329.66 L214.97,329.29 L215.33,325.72 L215.50,324.93 L215.80,324.21 L216.04,323.90 L216.68,323.44 L218.94,322.66 L219.58,322.21 L219.85,321.92 L220.43,320.88 L220.82,319.74 L221.20,318.19 L221.55,316.22 L222.48,308.27 L222.72,303.48 L223.54,291.10 L223.68,287.50 L224.13,264.70 L224.25,263.51 L224.37,263.14 L224.58,262.83 L224.89,262.64 L225.26,262.61 L225.61,262.73 L225.91,262.97 L226.90,264.22 L227.20,264.49 L227.88,264.89 L229.02,265.26 L230.99,265.57 L232.59,265.60 L236.59,265.50 L267.00,265.50" fill="none" stroke="#19a676" stroke-width="1.60" stroke-linejoin="round" stroke-linecap="round"/>
<path d="M50.10,265.00 L57.70,265.19 L61.69,265.50 L62.88,265.68 L64.43,266.05 L65.57,266.43 L66.66,266.93 L67.34,267.34 L68.31,268.05 L69.50,269.12 L70.34,269.97 L71.38,271.20 L72.82,273.11 L75.91,277.78 L76.62,278.75 L77.70,279.93 L78.59,280.73 L79.29,281.09 L79.68,281.16 L80.45,281.04 L81.17,280.71 L82.17,280.05 L83.07,279.26 L83.85,278.35 L85.04,276.74 L87.07,273.77 L88.13,272.57 L89.57,271.18 L91.11,269.90 L92.41,268.97 L93.44,268.36 L94.90,267.70 L96.03,267.30 L97.19,267.00 L100.33,266.36 L101.12,266.27 L101.51,266.30 L101.89,266.41 L102.23,266.59 L102.84,267.11 L103.38,267.69 L104.64,269.25 L105.46,270.62 L105.97,271.70 L106.54,273.20 L107.02,274.73 L107.41,276.28 L107.72,277.85 L108.01,279.83 L108.33,283.82 L108.64,290.21 L110.14,335.00 L111.30,366.19 L112.19,385.78 L112.23,386.56 L112.27,386.85 L112.32,386.88 L113.25,367.45 L114.49,328.65 L114.81,312.65 L115.30,275.84 L115.48,269.44 L115.56,267.84 L115.72,266.66 L115.95,265.89 L116.33,265.21 L116.62,264.98 L116.98,264.91 L119.71,265.46 L121.71,265.56 L126.51,265.50 L204.54,265.50 L208.52,265.74 L209.30,265.60 L209.62,265.40 L209.87,265.11 L210.03,264.76 L210.35,263.19 L210.65,260.41 L210.71,260.04 L210.80,259.84 L210.92,259.99 L211.01,260.33 L211.28,262.31 L211.57,266.70 L212.61,300.30 L213.85,331.49 L214.46,349.08 L214.56,354.28 L214.60,355.07 L214.66,355.36 L214.77,355.40 L214.95,354.78 L215.14,353.59 L219.83,322.33 L221.43,312.05 L221.73,309.67 L222.99,290.10 L223.53,264.90 L223.62,263.71 L223.70,263.32 L223.86,262.97 L224.13,262.72 L224.47,262.61 L224.84,262.65 L225.17,262.84 L225.44,263.12 L226.44,264.36 L227.10,264.80 L227.84,265.10 L228.61,265.30 L230.59,265.58 L232.19,265.60 L236.19,265.50 L267.00,265.50" fill="none" stroke="#c77af5" stroke-width="1.60" stroke-linejoin="round" stroke-linecap="round"/>
<path d="M50.10,265.00 L57.70,265.19 L62.09,265.55 L63.27,265.75 L64.82,266.16 L65.94,266.58 L67.00,267.14 L67.97,267.84 L69.15,268.92 L70.24,270.10 L71.24,271.35 L72.39,272.98 L73.24,274.34 L76.75,280.63 L78.60,283.24 L79.16,283.80 L79.49,284.01 L79.86,284.13 L80.24,284.13 L80.61,284.03 L81.29,283.62 L82.19,282.82 L83.01,281.95 L83.69,280.96 L84.85,278.86 L86.91,275.43 L88.31,273.48 L89.59,271.94 L90.43,271.08 L91.62,270.02 L92.91,269.07 L93.94,268.45 L95.75,267.60 L97.26,267.08 L100.38,266.34 L101.17,266.27 L101.56,266.31 L101.93,266.43 L102.28,266.62 L103.42,267.73 L104.67,269.29 L105.49,270.66 L105.99,271.75 L106.56,273.25 L107.04,274.78 L107.42,276.33 L107.96,279.49 L108.31,283.47 L108.65,290.27 L110.13,332.67 L111.29,362.26 L112.16,381.05 L112.21,381.84 L112.26,382.14 L112.32,382.20 L112.45,380.77 L113.25,363.58 L114.49,326.78 L114.82,311.18 L115.29,275.96 L115.49,269.16 L115.58,267.56 L115.79,266.38 L116.06,265.63 L116.26,265.29 L116.53,265.04 L116.88,264.91 L117.26,264.93 L119.60,265.44 L121.59,265.56 L126.39,265.50 L204.44,265.50 L205.64,265.53 L208.43,265.75 L209.21,265.63 L209.55,265.46 L209.82,265.19 L210.00,264.85 L210.40,262.89 L210.69,260.13 L210.77,259.88 L210.89,259.94 L211.06,260.63 L211.31,262.62 L211.55,266.21 L212.67,301.81 L213.77,329.41 L214.27,338.20 L214.41,343.40 L214.49,344.59 L214.55,344.97 L214.66,345.23 L214.82,345.20 L215.08,344.54 L215.99,340.65 L216.43,339.11 L218.42,333.87 L219.10,331.57 L219.46,329.60 L220.02,324.83 L220.79,319.69 L221.09,317.30 L221.33,314.11 L222.14,298.93 L222.61,274.52 L222.61,266.11 L222.77,264.12 L222.97,263.35 L223.15,263.00 L223.41,262.73 L223.73,262.62 L224.04,262.73 L224.31,263.00 L225.27,264.26 L225.91,264.73 L226.64,265.05 L227.41,265.28 L228.59,265.51 L229.38,265.59 L230.98,265.62 L235.38,265.50 L267.00,265.50" fill="none" stroke="#e3a00c" stroke-width="1.60" stroke-linejoin="round" stroke-linecap="round"/>
<rect x="46.20" y="235.80" width="220.80" height="177.90" fill="none" stroke="#1c1c1c" stroke-width="1.50"/>
<line x1="46.20" y1="413.70" x2="46.20" y2="417.20" stroke="#1c1c1c" stroke-width="1.20"/>
<text x="46.20" y="427.90" font-size="10.20" text-anchor="middle" font-weight="bold" fill="#111" stroke="#111" stroke-width="0.15">0</text>
<line x1="60.00" y1="413.70" x2="60.00" y2="415.50" stroke="#1c1c1c" stroke-width="1.00"/>
<line x1="73.80" y1="413.70" x2="73.80" y2="417.20" stroke="#1c1c1c" stroke-width="1.20"/>
<text x="73.80" y="427.90" font-size="10.20" text-anchor="middle" font-weight="bold" fill="#111" stroke="#111" stroke-width="0.15">200</text>
<line x1="87.60" y1="413.70" x2="87.60" y2="415.50" stroke="#1c1c1c" stroke-width="1.00"/>
<line x1="101.40" y1="413.70" x2="101.40" y2="417.20" stroke="#1c1c1c" stroke-width="1.20"/>
<text x="101.40" y="427.90" font-size="10.20" text-anchor="middle" font-weight="bold" fill="#111" stroke="#111" stroke-width="0.15">400</text>
<line x1="115.20" y1="413.70" x2="115.20" y2="415.50" stroke="#1c1c1c" stroke-width="1.00"/>
<line x1="129.00" y1="413.70" x2="129.00" y2="417.20" stroke="#1c1c1c" stroke-width="1.20"/>
<text x="129.00" y="427.90" font-size="10.20" text-anchor="middle" font-weight="bold" fill="#111" stroke="#111" stroke-width="0.15">600</text>
<line x1="142.80" y1="413.70" x2="142.80" y2="415.50" stroke="#1c1c1c" stroke-width="1.00"/>
<line x1="156.60" y1="413.70" x2="156.60" y2="417.20" stroke="#1c1c1c" stroke-width="1.20"/>
<text x="156.60" y="427.90" font-size="10.20" text-anchor="middle" font-weight="bold" fill="#111" stroke="#111" stroke-width="0.15">600</text>
<line x1="170.40" y1="413.70" x2="170.40" y2="415.50" stroke="#1c1c1c" stroke-width="1.00"/>
<line x1="184.20" y1="413.70" x2="184.20" y2="417.20" stroke="#1c1c1c" stroke-width="1.20"/>
<text x="184.20" y="427.90" font-size="10.20" text-anchor="middle" font-weight="bold" fill="#111" stroke="#111" stroke-width="0.15">600</text>
<line x1="198.00" y1="413.70" x2="198.00" y2="415.50" stroke="#1c1c1c" stroke-width="1.00"/>
<line x1="211.80" y1="413.70" x2="211.80" y2="417.20" stroke="#1c1c1c" stroke-width="1.20"/>
<text x="211.80" y="427.90" font-size="10.20" text-anchor="middle" font-weight="bold" fill="#111" stroke="#111" stroke-width="0.15">800</text>
<line x1="225.60" y1="413.70" x2="225.60" y2="415.50" stroke="#1c1c1c" stroke-width="1.00"/>
<line x1="239.40" y1="413.70" x2="239.40" y2="417.20" stroke="#1c1c1c" stroke-width="1.20"/>
<text x="239.40" y="427.90" font-size="10.20" text-anchor="middle" font-weight="bold" fill="#111" stroke="#111" stroke-width="0.15">800</text>
<line x1="253.20" y1="413.70" x2="253.20" y2="415.50" stroke="#1c1c1c" stroke-width="1.00"/>
<line x1="267.00" y1="413.70" x2="267.00" y2="417.20" stroke="#1c1c1c" stroke-width="1.20"/>
<text x="267.00" y="427.90" font-size="10.20" text-anchor="middle" font-weight="bold" fill="#111" stroke="#111" stroke-width="0.15">800</text>
<line x1="42.60" y1="265.20" x2="46.20" y2="265.20" stroke="#1c1c1c" stroke-width="1.20"/>
<text transform="translate(40.20 268.45) scale(0.930 1)" font-size="10.51" text-anchor="end" font-weight="bold" fill="#111" stroke="#111" stroke-width="0.15">0.0</text>
<line x1="42.60" y1="314.70" x2="46.20" y2="314.70" stroke="#1c1c1c" stroke-width="1.20"/>
<text transform="translate(40.20 317.95) scale(0.930 1)" font-size="10.51" text-anchor="end" font-weight="bold" fill="#111" stroke="#111" stroke-width="0.15">–0.5</text>
<line x1="42.60" y1="364.20" x2="46.20" y2="364.20" stroke="#1c1c1c" stroke-width="1.20"/>
<text transform="translate(40.20 367.45) scale(0.930 1)" font-size="10.51" text-anchor="end" font-weight="bold" fill="#111" stroke="#111" stroke-width="0.15">–1.0</text>
<line x1="42.60" y1="413.70" x2="46.20" y2="413.70" stroke="#1c1c1c" stroke-width="1.20"/>
<text transform="translate(40.20 416.95) scale(0.930 1)" font-size="10.51" text-anchor="end" font-weight="bold" fill="#111" stroke="#111" stroke-width="0.15">–1.5</text>
<line x1="44.40" y1="240.45" x2="46.20" y2="240.45" stroke="#1c1c1c" stroke-width="1.00"/>
<line x1="44.40" y1="289.95" x2="46.20" y2="289.95" stroke="#1c1c1c" stroke-width="1.00"/>
<line x1="44.40" y1="339.45" x2="46.20" y2="339.45" stroke="#1c1c1c" stroke-width="1.00"/>
<line x1="44.40" y1="388.95" x2="46.20" y2="388.95" stroke="#1c1c1c" stroke-width="1.00"/>
<text x="47.50" y="250.00" font-size="17.60" text-anchor="start" font-weight="bold" fill="#111" stroke="#111" stroke-width="0.15">(c)</text>
<text x="157.20" y="446.00" font-size="12.70" text-anchor="middle" font-weight="bold" fill="#111" stroke="#111" stroke-width="0.15" textLength="88.6" lengthAdjust="spacingAndGlyphs">Temperature(°C)</text>
<text x="14.30" y="320.00" font-size="12.20" text-anchor="middle" font-weight="bold" fill="#111" stroke="#111" stroke-width="0.15" transform="rotate(-90 14.30 320.00)">DTG(a.u.)</text>
<line x1="47.70" y1="341.80" x2="71.30" y2="341.80" stroke="#707070" stroke-width="1.70"/>
<text transform="translate(73.20 345.60) scale(0.920 1)" font-size="10.60" text-anchor="start" font-weight="bold" fill="#111" stroke="#111" stroke-width="0.15">336h</text>
<line x1="47.70" y1="354.50" x2="71.30" y2="354.50" stroke="#ff4a4a" stroke-width="1.70"/>
<text transform="translate(73.20 358.30) scale(0.920 1)" font-size="10.60" text-anchor="start" font-weight="bold" fill="#111" stroke="#111" stroke-width="0.15">168h</text>
<line x1="47.70" y1="367.20" x2="71.30" y2="367.20" stroke="#1f74dc" stroke-width="1.70"/>
<text transform="translate(73.20 371.00) scale(0.920 1)" font-size="10.60" text-anchor="start" font-weight="bold" fill="#111" stroke="#111" stroke-width="0.15">120h</text>
<line x1="47.70" y1="379.90" x2="71.30" y2="379.90" stroke="#19a676" stroke-width="1.70"/>
<text transform="translate(73.20 383.70) scale(0.920 1)" font-size="10.60" text-anchor="start" font-weight="bold" fill="#111" stroke="#111" stroke-width="0.15">72h</text>
<line x1="47.70" y1="392.60" x2="71.30" y2="392.60" stroke="#c77af5" stroke-width="1.70"/>
<text transform="translate(73.20 396.40) scale(0.920 1)" font-size="10.60" text-anchor="start" font-weight="bold" fill="#111" stroke="#111" stroke-width="0.15">24h</text>
<line x1="47.70" y1="405.30" x2="71.30" y2="405.30" stroke="#e3a00c" stroke-width="1.70"/>
<text transform="translate(73.20 409.10) scale(0.920 1)" font-size="10.60" text-anchor="start" font-weight="bold" fill="#111" stroke="#111" stroke-width="0.15">0h</text>
<line x1="101.70" y1="286.50" x2="113.54" y2="293.15" stroke="#111" stroke-width="1.00"/>
<path d="M117.90,295.60 L112.51,294.98 L114.57,291.32 Z" fill="#111"/>
<rect x="132.30" y="272.30" width="76.10" height="55.60" fill="#fff" stroke="none"/>
<path d="M132.40,284.40 L141.22,284.73 L146.84,284.81 L150.05,284.68 L157.65,284.11 L160.46,284.07 L162.46,284.22 L167.24,284.77 L174.38,285.88 L178.76,286.47 L181.55,286.75 L184.36,286.87 L188.77,286.80 L200.78,285.92 L203.99,285.78 L208.00,285.70" fill="none" stroke="#707070" stroke-width="0.95" stroke-linejoin="round" stroke-linecap="round"/>
<path d="M132.40,284.40 L140.79,285.05 L146.80,285.36 L150.40,285.33 L158.01,284.95 L160.40,285.01 L163.17,285.43 L175.73,288.03 L178.51,288.36 L181.72,288.51 L184.92,288.47 L188.11,288.19 L190.49,287.85 L196.82,286.79 L200.79,286.29 L203.99,286.08 L208.00,286.00" fill="none" stroke="#ff4a4a" stroke-width="0.95" stroke-linejoin="round" stroke-linecap="round"/>
<path d="M132.40,284.40 L139.16,285.12 L144.75,285.49 L148.75,285.58 L155.14,285.43 L157.14,285.49 L159.13,285.64 L161.90,286.06 L171.68,288.12 L174.83,288.71 L179.57,289.44 L181.56,289.66 L183.15,289.75 L185.55,289.69 L188.32,289.30 L190.66,288.81 L196.48,287.35 L199.63,286.77 L203.20,286.41 L208.00,286.20" fill="none" stroke="#1f74dc" stroke-width="0.95" stroke-linejoin="round" stroke-linecap="round"/>
<path d="M132.40,284.40 L139.58,285.24 L145.99,285.61 L149.59,285.92 L152.77,286.34 L155.53,286.87 L157.85,287.48 L159.74,288.16 L161.19,288.82 L164.40,290.48 L166.94,291.69 L169.16,292.62 L171.43,293.43 L174.12,294.22 L177.25,294.92 L180.03,295.37 L182.02,295.52 L183.61,295.44 L184.78,295.24 L186.32,294.79 L187.80,294.19 L190.27,292.87 L194.00,290.51 L196.07,289.28 L197.49,288.54 L198.97,287.93 L200.88,287.32 L202.83,286.87 L204.81,286.55 L208.00,286.20" fill="none" stroke="#19a676" stroke-width="0.95" stroke-linejoin="round" stroke-linecap="round"/>
<path d="M132.40,284.40 L137.10,285.37 L138.65,285.79 L140.16,286.31 L141.62,286.94 L143.75,288.05 L145.82,289.27 L147.47,290.39 L148.70,291.40 L149.86,292.51 L153.63,296.66 L155.65,299.14 L160.21,305.22 L161.49,306.76 L162.59,307.92 L164.08,309.23 L165.41,310.10 L166.85,310.72 L167.61,310.90 L168.37,310.98 L169.13,310.95 L169.88,310.78 L170.59,310.50 L171.27,310.12 L172.23,309.43 L175.94,306.39 L177.71,304.78 L178.49,303.88 L179.21,302.92 L183.77,295.86 L186.54,291.95 L187.55,290.71 L188.37,289.84 L189.56,288.78 L190.53,288.08 L191.91,287.30 L193.75,286.52 L195.66,285.94 L197.62,285.55 L199.20,285.38 L201.20,285.32 L208.00,285.60" fill="none" stroke="#c77af5" stroke-width="0.95" stroke-linejoin="round" stroke-linecap="round"/>
<path d="M132.40,284.40 L134.75,284.92 L136.68,285.45 L138.57,286.12 L140.41,286.91 L142.55,287.99 L144.97,289.41 L146.63,290.53 L148.20,291.77 L149.36,292.88 L150.45,294.05 L153.63,297.66 L155.13,299.54 L157.17,302.51 L161.87,309.98 L163.25,311.95 L164.24,313.21 L165.33,314.37 L166.56,315.34 L167.59,315.84 L168.68,316.05 L169.05,316.04 L169.77,315.90 L170.79,315.41 L171.41,314.94 L171.98,314.40 L173.00,313.19 L174.56,310.86 L180.70,300.51 L182.60,297.45 L184.14,295.10 L185.76,292.81 L187.00,291.23 L188.35,289.75 L189.54,288.70 L191.19,287.58 L192.98,286.71 L194.87,286.06 L197.21,285.52 L199.20,285.28 L201.20,285.22 L204.00,285.31 L208.00,285.60" fill="none" stroke="#e3a00c" stroke-width="0.95" stroke-linejoin="round" stroke-linecap="round"/>
<rect x="132.30" y="272.30" width="76.10" height="55.60" fill="none" stroke="#555" stroke-width="0.80"/>
<line x1="143.50" y1="327.90" x2="143.50" y2="329.40" stroke="#555" stroke-width="0.60"/>
<text x="143.50" y="332.85" font-size="3.60" text-anchor="middle" font-weight="bold" fill="#222">150</text>
<line x1="156.30" y1="327.90" x2="156.30" y2="329.40" stroke="#555" stroke-width="0.60"/>
<text x="156.30" y="332.85" font-size="3.60" text-anchor="middle" font-weight="bold" fill="#222">200</text>
<line x1="169.10" y1="327.90" x2="169.10" y2="329.40" stroke="#555" stroke-width="0.60"/>
<text x="169.10" y="332.85" font-size="3.60" text-anchor="middle" font-weight="bold" fill="#222">250</text>
<line x1="181.90" y1="327.90" x2="181.90" y2="329.40" stroke="#555" stroke-width="0.60"/>
<text x="181.90" y="332.85" font-size="3.60" text-anchor="middle" font-weight="bold" fill="#222">300</text>
<line x1="194.70" y1="327.90" x2="194.70" y2="329.40" stroke="#555" stroke-width="0.60"/>
<text x="194.70" y="332.85" font-size="3.60" text-anchor="middle" font-weight="bold" fill="#222">350</text>
<line x1="149.90" y1="327.90" x2="149.90" y2="328.80" stroke="#555" stroke-width="0.50"/>
<line x1="162.70" y1="327.90" x2="162.70" y2="328.80" stroke="#555" stroke-width="0.50"/>
<line x1="175.50" y1="327.90" x2="175.50" y2="328.80" stroke="#555" stroke-width="0.50"/>
<line x1="188.30" y1="327.90" x2="188.30" y2="328.80" stroke="#555" stroke-width="0.50"/>
<line x1="137.10" y1="327.90" x2="137.10" y2="328.80" stroke="#555" stroke-width="0.50"/>
<line x1="130.80" y1="274.65" x2="132.30" y2="274.65" stroke="#555" stroke-width="0.60"/>
<text x="130.00" y="275.87" font-size="3.60" text-anchor="end" font-weight="bold" fill="#222">0.05</text>
<line x1="130.80" y1="283.40" x2="132.30" y2="283.40" stroke="#555" stroke-width="0.60"/>
<text x="130.00" y="284.62" font-size="3.60" text-anchor="end" font-weight="bold" fill="#222">0.00</text>
<line x1="130.80" y1="292.15" x2="132.30" y2="292.15" stroke="#555" stroke-width="0.60"/>
<text x="130.00" y="293.37" font-size="3.60" text-anchor="end" font-weight="bold" fill="#222">−0.05</text>
<line x1="130.80" y1="300.90" x2="132.30" y2="300.90" stroke="#555" stroke-width="0.60"/>
<text x="130.00" y="302.12" font-size="3.60" text-anchor="end" font-weight="bold" fill="#222">−0.10</text>
<line x1="130.80" y1="309.65" x2="132.30" y2="309.65" stroke="#555" stroke-width="0.60"/>
<text x="130.00" y="310.87" font-size="3.60" text-anchor="end" font-weight="bold" fill="#222">−0.15</text>
<line x1="130.80" y1="318.40" x2="132.30" y2="318.40" stroke="#555" stroke-width="0.60"/>
<text x="130.00" y="319.62" font-size="3.60" text-anchor="end" font-weight="bold" fill="#222">−0.20</text>
<line x1="130.80" y1="327.15" x2="132.30" y2="327.15" stroke="#555" stroke-width="0.60"/>
<text x="130.00" y="328.37" font-size="3.60" text-anchor="end" font-weight="bold" fill="#222">−0.25</text>
<text x="170.50" y="338.50" font-size="3.95" text-anchor="middle" font-weight="bold" fill="#222">Temperature(°C)</text>
<text x="121.50" y="299.70" font-size="4.00" text-anchor="middle" font-weight="bold" fill="#222" transform="rotate(-90 121.50 299.70)">DTG(a.u.)</text>
<line x1="163.80" y1="280.20" x2="169.50" y2="285.80" stroke="#555" stroke-width="0.70"/>
<line x1="179.90" y1="281.30" x2="179.90" y2="286.60" stroke="#555" stroke-width="0.70"/>
<line x1="188.50" y1="280.00" x2="184.80" y2="286.60" stroke="#555" stroke-width="0.70"/>
<line x1="184.80" y1="294.80" x2="192.80" y2="294.80" stroke="#555" stroke-width="0.70"/>
<line x1="178.20" y1="305.40" x2="192.80" y2="305.40" stroke="#999" stroke-width="0.70"/>
<line x1="170.00" y1="316.40" x2="192.80" y2="316.40" stroke="#777" stroke-width="0.70"/>
<text x="154.40" y="280.37" font-size="5.20" text-anchor="start" font-weight="bold" fill="#111" stroke="#111" stroke-width="0.08">120h</text>
<text x="175.60" y="280.87" font-size="5.20" text-anchor="start" font-weight="bold" fill="#111" stroke="#111" stroke-width="0.08">168h</text>
<text x="187.20" y="279.97" font-size="5.20" text-anchor="start" font-weight="bold" fill="#111" stroke="#111" stroke-width="0.08">336h</text>
<text x="192.60" y="296.57" font-size="5.20" text-anchor="start" font-weight="bold" fill="#111" stroke="#111" stroke-width="0.08">-72h</text>
<text x="192.60" y="307.17" font-size="5.20" text-anchor="start" font-weight="bold" fill="#111" stroke="#111" stroke-width="0.08">-24h</text>
<text x="192.60" y="318.17" font-size="5.20" text-anchor="start" font-weight="bold" fill="#111" stroke="#111" stroke-width="0.08">-0h</text>
<rect x="334.50" y="259.40" width="38.10" height="30.90" fill="#e6e6e6" stroke="#fbaaa6" stroke-width="1.05"/>
<path d="M321.10,265.00 L325.50,265.08 L329.89,265.39 L335.09,265.47 L338.28,265.65 L343.46,266.17 L352.17,267.41 L354.56,267.59 L357.36,267.59 L362.94,267.17 L369.73,266.76 L371.33,266.71 L372.53,266.75 L373.70,266.97 L374.79,267.46 L375.71,268.23 L376.18,268.87 L376.57,269.56 L378.16,273.24 L378.79,275.13 L379.21,276.67 L379.54,278.24 L379.84,280.22 L380.29,285.40 L380.53,291.39 L381.81,337.78 L383.22,375.76 L383.83,394.95 L383.92,395.69 L384.73,374.27 L385.35,354.28 L385.71,336.68 L385.99,319.08 L386.55,273.48 L386.78,267.49 L387.01,266.32 L387.33,265.59 L387.56,265.27 L387.86,265.03 L388.22,264.89 L389.80,264.73 L390.60,264.71 L392.99,264.90 L394.59,264.94 L477.40,265.50 L480.58,265.70 L480.97,265.64 L481.30,265.48 L481.55,265.20 L481.68,264.84 L482.04,260.06 L482.15,259.36 L482.24,259.29 L482.31,259.53 L482.45,260.70 L482.75,264.69 L483.85,289.07 L484.92,305.43 L485.51,318.62 L485.65,323.82 L485.73,324.58 L485.81,324.76 L485.91,324.59 L486.44,321.88 L487.23,319.61 L488.66,316.31 L490.44,312.73 L491.44,311.00 L492.35,309.68 L493.17,308.80 L495.24,306.93 L496.05,306.04 L496.67,305.02 L497.01,303.88 L497.14,302.29 L497.07,298.29 L497.83,284.31 L498.59,265.12 L498.72,263.93 L498.84,263.56 L499.06,263.27 L499.38,263.14 L499.75,263.16 L500.11,263.32 L501.55,264.67 L502.25,265.03 L503.41,265.32 L505.40,265.55 L507.00,265.59 L511.80,265.50 L538.60,265.50" fill="none" stroke="#707070" stroke-width="1.60" stroke-linejoin="round" stroke-linecap="round"/>
<path d="M321.10,265.00 L325.90,265.10 L329.89,265.39 L333.49,265.48 L335.88,265.66 L340.25,266.22 L348.93,267.65 L352.50,268.13 L354.49,268.30 L356.09,268.31 L358.09,268.19 L366.03,267.20 L372.81,266.82 L373.21,266.86 L373.98,267.07 L374.69,267.42 L375.34,267.88 L376.13,268.78 L376.87,270.19 L378.26,273.51 L378.88,275.41 L379.28,276.96 L379.59,278.53 L379.87,280.51 L380.28,285.29 L380.73,298.89 L381.81,340.48 L383.20,380.47 L383.89,402.24 L383.99,400.95 L384.72,379.76 L385.34,358.56 L385.71,339.76 L385.99,320.56 L386.54,273.76 L386.69,268.96 L386.80,267.36 L387.05,266.19 L387.40,265.48 L387.65,265.19 L387.97,264.98 L388.34,264.87 L390.33,264.71 L393.12,264.90 L394.72,264.94 L477.54,265.50 L480.72,265.69 L481.09,265.60 L481.40,265.39 L481.60,265.07 L481.70,264.70 L482.06,259.92 L482.17,259.29 L482.26,259.35 L482.38,260.04 L482.71,264.03 L483.88,289.61 L484.95,305.98 L485.50,318.37 L485.51,323.57 L485.60,324.36 L485.72,324.71 L485.95,324.95 L486.26,324.96 L486.54,324.75 L486.89,324.06 L487.91,320.61 L488.69,318.77 L491.76,312.70 L494.14,308.53 L494.88,307.11 L495.49,305.64 L495.89,304.09 L496.05,302.50 L496.06,298.50 L496.84,284.12 L497.60,264.93 L497.68,264.13 L497.77,263.75 L497.93,263.41 L498.21,263.19 L498.56,263.13 L498.93,263.22 L499.27,263.42 L500.39,264.55 L500.71,264.78 L501.44,265.09 L502.61,265.36 L504.60,265.56 L506.20,265.59 L510.99,265.50 L538.60,265.50" fill="none" stroke="#ff4a4a" stroke-width="1.60" stroke-linejoin="round" stroke-linecap="round"/>
<path d="M321.10,265.00 L326.30,265.12 L329.89,265.39 L333.49,265.56 L336.67,265.90 L340.61,266.60 L352.32,269.21 L353.50,269.42 L354.70,269.51 L356.30,269.43 L358.28,269.15 L363.74,267.93 L366.10,267.49 L372.07,266.86 L372.86,266.84 L373.26,266.88 L374.03,267.09 L375.07,267.66 L375.93,268.49 L376.36,269.16 L376.72,269.87 L377.69,272.07 L378.28,273.56 L378.89,275.46 L379.29,277.01 L379.60,278.58 L379.88,280.56 L380.31,285.75 L380.53,291.74 L381.81,339.74 L383.20,379.32 L383.89,400.72 L383.99,399.49 L384.72,378.70 L385.34,357.51 L385.71,339.11 L385.99,320.30 L386.54,273.90 L386.78,267.50 L387.01,266.33 L387.32,265.60 L387.55,265.28 L387.85,265.04 L388.21,264.90 L389.39,264.76 L390.59,264.71 L392.98,264.90 L394.58,264.94 L477.40,265.50 L480.58,265.70 L480.97,265.64 L481.30,265.48 L481.55,265.20 L481.68,264.84 L482.04,260.06 L482.15,259.36 L482.24,259.29 L482.41,260.30 L482.72,264.29 L483.87,289.47 L484.92,305.44 L486.04,331.02 L486.20,332.60 L486.32,332.90 L486.50,332.95 L486.68,332.72 L486.81,332.36 L487.97,328.12 L490.24,320.86 L493.25,310.91 L494.19,307.43 L494.74,304.69 L494.95,302.70 L495.07,298.30 L495.83,284.32 L496.59,265.13 L496.72,263.94 L496.84,263.57 L497.05,263.28 L497.38,263.14 L497.75,263.16 L498.10,263.31 L499.55,264.66 L500.25,265.03 L501.41,265.32 L503.39,265.56 L505.39,265.59 L510.19,265.50 L538.60,265.50" fill="none" stroke="#1f74dc" stroke-width="1.60" stroke-linejoin="round" stroke-linecap="round"/>
<path d="M321.10,265.00 L325.90,265.10 L332.68,265.57 L334.27,265.74 L336.24,266.09 L338.19,266.55 L340.48,267.26 L342.36,267.94 L346.82,269.71 L350.23,270.87 L352.54,271.50 L354.91,271.88 L355.71,271.89 L356.50,271.81 L357.29,271.66 L358.44,271.31 L359.54,270.84 L363.46,268.84 L364.57,268.38 L366.09,267.88 L367.63,267.48 L368.81,267.26 L371.99,266.88 L373.18,266.86 L373.95,267.06 L374.67,267.41 L375.32,267.87 L375.88,268.43 L376.32,269.10 L376.69,269.81 L378.25,273.49 L378.87,275.39 L379.28,276.94 L379.59,278.51 L379.87,280.48 L380.28,285.27 L380.52,291.26 L381.80,336.85 L383.21,374.42 L383.89,394.21 L383.99,393.00 L384.72,373.41 L385.35,353.42 L385.71,336.22 L385.99,318.62 L386.55,273.42 L386.70,268.63 L386.79,267.43 L387.03,266.26 L387.36,265.54 L387.60,265.23 L387.91,265.01 L388.28,264.88 L389.86,264.73 L390.66,264.71 L392.65,264.88 L394.65,264.94 L477.45,265.50 L480.64,265.70 L481.02,265.63 L481.35,265.45 L481.57,265.15 L481.69,264.78 L482.05,260.00 L482.16,259.33 L482.25,259.31 L482.45,260.76 L482.75,264.75 L483.85,289.12 L484.93,305.49 L485.74,323.47 L486.28,352.67 L486.23,358.27 L486.26,359.06 L486.32,359.42 L486.45,359.58 L486.61,359.41 L486.88,358.68 L487.59,355.98 L488.63,351.29 L489.65,346.19 L492.05,328.76 L492.35,325.97 L493.60,300.00 L493.83,267.60 L493.93,262.80 L494.04,262.03 L494.22,261.77 L494.51,261.74 L494.84,261.91 L495.41,262.45 L496.58,264.07 L496.86,264.35 L497.52,264.79 L498.64,265.21 L500.60,265.57 L502.20,265.62 L506.60,265.50 L538.60,265.50" fill="none" stroke="#19a676" stroke-width="1.60" stroke-linejoin="round" stroke-linecap="round"/>
<path d="M321.10,265.00 L326.30,265.12 L328.70,265.27 L331.08,265.52 L332.67,265.74 L333.84,265.99 L334.99,266.34 L336.11,266.76 L337.56,267.44 L338.61,268.02 L339.96,268.89 L341.24,269.84 L343.03,271.44 L346.40,274.86 L347.31,275.64 L348.28,276.35 L349.31,276.97 L350.41,277.45 L351.56,277.78 L352.35,277.88 L353.14,277.85 L353.92,277.68 L354.67,277.41 L355.73,276.84 L356.37,276.37 L357.25,275.55 L358.37,274.41 L360.49,272.01 L362.25,270.38 L363.21,269.66 L364.24,269.04 L365.31,268.50 L366.42,268.05 L367.57,267.72 L370.31,267.11 L372.29,266.85 L373.09,266.85 L373.86,267.03 L374.92,267.57 L375.82,268.36 L376.47,269.36 L377.62,271.91 L378.22,273.40 L378.84,275.30 L379.25,276.84 L379.57,278.41 L379.86,280.39 L380.28,285.18 L380.50,290.37 L381.80,333.97 L383.14,367.16 L383.89,387.73 L383.98,386.86 L384.70,368.86 L385.35,349.27 L385.97,318.86 L386.48,276.85 L386.68,269.25 L386.76,267.65 L386.97,266.47 L387.25,265.73 L387.46,265.39 L387.73,265.12 L388.07,264.93 L388.45,264.85 L390.44,264.71 L392.84,264.89 L394.43,264.93 L477.27,265.50 L478.46,265.53 L480.45,265.71 L480.84,265.67 L481.20,265.54 L481.48,265.30 L481.65,264.96 L481.72,264.57 L482.07,259.79 L482.20,259.24 L482.29,259.41 L482.40,260.18 L482.72,264.16 L483.86,289.35 L484.96,306.12 L485.89,327.31 L486.12,334.51 L486.18,340.91 L486.29,342.07 L486.41,342.27 L486.58,342.14 L486.72,341.81 L486.94,341.05 L487.95,336.35 L490.18,320.50 L490.58,318.14 L491.19,315.40 L493.09,308.04 L493.51,306.09 L493.76,304.51 L493.93,302.51 L494.06,298.52 L494.82,284.53 L495.60,264.94 L495.68,264.14 L495.77,263.76 L495.93,263.42 L496.20,263.19 L496.55,263.13 L496.92,263.22 L497.26,263.41 L498.38,264.54 L498.70,264.77 L499.43,265.09 L500.60,265.35 L502.59,265.56 L508.19,265.50 L538.60,265.50" fill="none" stroke="#c77af5" stroke-width="1.60" stroke-linejoin="round" stroke-linecap="round"/>
<path d="M321.10,265.00 L327.10,265.16 L329.49,265.35 L332.28,265.66 L333.46,265.89 L334.61,266.24 L335.72,266.68 L336.80,267.21 L338.17,268.02 L339.48,268.95 L340.72,269.97 L341.87,271.07 L342.94,272.26 L344.21,273.81 L346.57,277.04 L347.56,278.30 L348.33,279.22 L349.16,280.09 L350.07,280.87 L351.05,281.57 L351.77,281.89 L352.55,282.01 L353.34,281.93 L354.11,281.71 L355.17,281.17 L355.79,280.66 L356.59,279.77 L357.57,278.50 L359.77,275.16 L361.28,273.30 L362.40,272.15 L363.30,271.36 L364.58,270.40 L365.60,269.77 L366.31,269.41 L368.18,268.70 L370.71,267.50 L371.87,267.19 L372.66,267.08 L373.46,267.11 L373.85,267.19 L374.95,267.65 L375.59,268.12 L375.86,268.41 L376.32,269.06 L376.85,270.14 L378.10,273.09 L378.75,274.98 L379.18,276.52 L379.51,278.09 L379.77,279.67 L380.23,284.45 L380.48,289.64 L381.79,330.05 L383.17,361.23 L383.79,378.03 L383.83,378.82 L383.92,379.20 L384.05,377.38 L385.22,348.59 L385.63,333.38 L386.01,314.18 L386.49,276.16 L386.69,268.95 L386.80,267.36 L386.94,266.57 L387.20,265.82 L387.65,265.18 L387.97,264.98 L388.35,264.87 L390.34,264.71 L393.13,264.90 L394.73,264.94 L477.58,265.50 L479.97,265.69 L480.76,265.69 L481.13,265.58 L481.43,265.36 L481.62,265.03 L481.71,264.66 L482.03,260.27 L482.18,259.27 L482.27,259.37 L482.39,260.09 L482.76,264.88 L483.86,289.27 L484.96,306.04 L485.73,324.04 L486.12,328.82 L486.27,329.58 L486.40,329.77 L486.55,329.63 L486.68,329.29 L487.77,324.62 L488.39,322.30 L490.42,316.65 L491.15,314.36 L491.71,312.03 L492.09,309.66 L492.46,306.07 L493.10,297.29 L494.19,280.12 L494.82,266.92 L495.07,263.73 L495.28,263.00 L495.53,262.81 L495.86,262.84 L496.20,263.01 L496.83,263.49 L497.98,264.61 L498.64,265.04 L499.79,265.36 L501.38,265.53 L502.98,265.57 L507.38,265.50 L538.60,265.50" fill="none" stroke="#e3a00c" stroke-width="1.60" stroke-linejoin="round" stroke-linecap="round"/>
<rect x="317.80" y="235.70" width="220.80" height="178.00" fill="none" stroke="#1c1c1c" stroke-width="1.50"/>
<line x1="317.80" y1="413.70" x2="317.80" y2="417.20" stroke="#1c1c1c" stroke-width="1.20"/>
<text x="317.80" y="427.90" font-size="10.20" text-anchor="middle" font-weight="bold" fill="#111" stroke="#111" stroke-width="0.15">0</text>
<line x1="331.60" y1="413.70" x2="331.60" y2="415.50" stroke="#1c1c1c" stroke-width="1.00"/>
<line x1="345.40" y1="413.70" x2="345.40" y2="417.20" stroke="#1c1c1c" stroke-width="1.20"/>
<text x="345.40" y="427.90" font-size="10.20" text-anchor="middle" font-weight="bold" fill="#111" stroke="#111" stroke-width="0.15">200</text>
<line x1="359.20" y1="413.70" x2="359.20" y2="415.50" stroke="#1c1c1c" stroke-width="1.00"/>
<line x1="373.00" y1="413.70" x2="373.00" y2="417.20" stroke="#1c1c1c" stroke-width="1.20"/>
<text x="373.00" y="427.90" font-size="10.20" text-anchor="middle" font-weight="bold" fill="#111" stroke="#111" stroke-width="0.15">400</text>
<line x1="386.80" y1="413.70" x2="386.80" y2="415.50" stroke="#1c1c1c" stroke-width="1.00"/>
<line x1="400.60" y1="413.70" x2="400.60" y2="417.20" stroke="#1c1c1c" stroke-width="1.20"/>
<text x="400.60" y="427.90" font-size="10.20" text-anchor="middle" font-weight="bold" fill="#111" stroke="#111" stroke-width="0.15">600</text>
<line x1="414.40" y1="413.70" x2="414.40" y2="415.50" stroke="#1c1c1c" stroke-width="1.00"/>
<line x1="428.20" y1="413.70" x2="428.20" y2="417.20" stroke="#1c1c1c" stroke-width="1.20"/>
<text x="428.20" y="427.90" font-size="10.20" text-anchor="middle" font-weight="bold" fill="#111" stroke="#111" stroke-width="0.15">600</text>
<line x1="442.00" y1="413.70" x2="442.00" y2="415.50" stroke="#1c1c1c" stroke-width="1.00"/>
<line x1="455.80" y1="413.70" x2="455.80" y2="417.20" stroke="#1c1c1c" stroke-width="1.20"/>
<text x="455.80" y="427.90" font-size="10.20" text-anchor="middle" font-weight="bold" fill="#111" stroke="#111" stroke-width="0.15">600</text>
<line x1="469.60" y1="413.70" x2="469.60" y2="415.50" stroke="#1c1c1c" stroke-width="1.00"/>
<line x1="483.40" y1="413.70" x2="483.40" y2="417.20" stroke="#1c1c1c" stroke-width="1.20"/>
<text x="483.40" y="427.90" font-size="10.20" text-anchor="middle" font-weight="bold" fill="#111" stroke="#111" stroke-width="0.15">800</text>
<line x1="497.20" y1="413.70" x2="497.20" y2="415.50" stroke="#1c1c1c" stroke-width="1.00"/>
<line x1="511.00" y1="413.70" x2="511.00" y2="417.20" stroke="#1c1c1c" stroke-width="1.20"/>
<text x="511.00" y="427.90" font-size="10.20" text-anchor="middle" font-weight="bold" fill="#111" stroke="#111" stroke-width="0.15">800</text>
<line x1="524.80" y1="413.70" x2="524.80" y2="415.50" stroke="#1c1c1c" stroke-width="1.00"/>
<line x1="538.60" y1="413.70" x2="538.60" y2="417.20" stroke="#1c1c1c" stroke-width="1.20"/>
<text x="538.60" y="427.90" font-size="10.20" text-anchor="middle" font-weight="bold" fill="#111" stroke="#111" stroke-width="0.15">800</text>
<line x1="314.20" y1="265.20" x2="317.80" y2="265.20" stroke="#1c1c1c" stroke-width="1.20"/>
<text transform="translate(311.80 268.45) scale(0.930 1)" font-size="10.51" text-anchor="end" font-weight="bold" fill="#111" stroke="#111" stroke-width="0.15">0.0</text>
<line x1="314.20" y1="314.70" x2="317.80" y2="314.70" stroke="#1c1c1c" stroke-width="1.20"/>
<text transform="translate(311.80 317.95) scale(0.930 1)" font-size="10.51" text-anchor="end" font-weight="bold" fill="#111" stroke="#111" stroke-width="0.15">–0.5</text>
<line x1="314.20" y1="364.20" x2="317.80" y2="364.20" stroke="#1c1c1c" stroke-width="1.20"/>
<text transform="translate(311.80 367.45) scale(0.930 1)" font-size="10.51" text-anchor="end" font-weight="bold" fill="#111" stroke="#111" stroke-width="0.15">–1.0</text>
<line x1="314.20" y1="413.70" x2="317.80" y2="413.70" stroke="#1c1c1c" stroke-width="1.20"/>
<text transform="translate(311.80 416.95) scale(0.930 1)" font-size="10.51" text-anchor="end" font-weight="bold" fill="#111" stroke="#111" stroke-width="0.15">–1.5</text>
<line x1="316.00" y1="240.45" x2="317.80" y2="240.45" stroke="#1c1c1c" stroke-width="1.00"/>
<line x1="316.00" y1="289.95" x2="317.80" y2="289.95" stroke="#1c1c1c" stroke-width="1.00"/>
<line x1="316.00" y1="339.45" x2="317.80" y2="339.45" stroke="#1c1c1c" stroke-width="1.00"/>
<line x1="316.00" y1="388.95" x2="317.80" y2="388.95" stroke="#1c1c1c" stroke-width="1.00"/>
<text x="318.70" y="250.00" font-size="17.60" text-anchor="start" font-weight="bold" fill="#111" stroke="#111" stroke-width="0.15">(d)</text>
<text x="428.80" y="446.00" font-size="12.70" text-anchor="middle" font-weight="bold" fill="#111" stroke="#111" stroke-width="0.15" textLength="88.6" lengthAdjust="spacingAndGlyphs">Temperature(°C)</text>
<text x="285.80" y="319.50" font-size="12.20" text-anchor="middle" font-weight="bold" fill="#111" stroke="#111" stroke-width="0.15" transform="rotate(-90 285.80 319.50)">DTG(a.u.)</text>
<line x1="320.40" y1="342.70" x2="344.00" y2="342.70" stroke="#707070" stroke-width="1.70"/>
<text transform="translate(346.30 346.50) scale(0.920 1)" font-size="10.60" text-anchor="start" font-weight="bold" fill="#111" stroke="#111" stroke-width="0.15">336h</text>
<line x1="320.40" y1="355.45" x2="344.00" y2="355.45" stroke="#ff4a4a" stroke-width="1.70"/>
<text transform="translate(346.30 359.25) scale(0.920 1)" font-size="10.60" text-anchor="start" font-weight="bold" fill="#111" stroke="#111" stroke-width="0.15">168h</text>
<line x1="320.40" y1="368.20" x2="344.00" y2="368.20" stroke="#1f74dc" stroke-width="1.70"/>
<text transform="translate(346.30 372.00) scale(0.920 1)" font-size="10.60" text-anchor="start" font-weight="bold" fill="#111" stroke="#111" stroke-width="0.15">120h</text>
<line x1="320.40" y1="380.95" x2="344.00" y2="380.95" stroke="#19a676" stroke-width="1.70"/>
<text transform="translate(346.30 384.75) scale(0.920 1)" font-size="10.60" text-anchor="start" font-weight="bold" fill="#111" stroke="#111" stroke-width="0.15">72h</text>
<line x1="320.40" y1="393.70" x2="344.00" y2="393.70" stroke="#c77af5" stroke-width="1.70"/>
<text transform="translate(346.30 397.50) scale(0.920 1)" font-size="10.60" text-anchor="start" font-weight="bold" fill="#111" stroke="#111" stroke-width="0.15">24h</text>
<line x1="320.40" y1="406.45" x2="344.00" y2="406.45" stroke="#e3a00c" stroke-width="1.70"/>
<text transform="translate(346.30 410.25) scale(0.920 1)" font-size="10.60" text-anchor="start" font-weight="bold" fill="#111" stroke="#111" stroke-width="0.15">0h</text>
<line x1="374.10" y1="284.50" x2="385.90" y2="293.97" stroke="#111" stroke-width="1.00"/>
<path d="M389.80,297.10 L384.59,295.61 L387.21,292.33 Z" fill="#111"/>
<rect x="404.00" y="270.00" width="74.90" height="55.80" fill="#fff" stroke="none"/>
<path d="M404.10,284.40 L417.32,284.53 L421.32,284.74 L424.51,285.08 L429.28,285.70 L437.99,287.07 L441.96,287.63 L445.94,288.05 L448.74,288.18 L451.94,288.08 L454.73,287.77 L456.70,287.41 L462.95,285.99 L465.31,285.57 L467.69,285.24 L471.69,284.93 L478.90,284.80" fill="none" stroke="#707070" stroke-width="0.95" stroke-linejoin="round" stroke-linecap="round"/>
<path d="M404.10,284.50 L416.55,284.68 L418.95,284.77 L421.35,284.94 L425.74,285.43 L430.52,286.07 L443.59,288.21 L446.79,288.52 L450.00,288.62 L452.80,288.51 L455.58,288.13 L457.15,287.78 L463.75,286.08 L466.11,285.60 L468.49,285.21 L472.08,284.84 L478.90,284.50" fill="none" stroke="#ff4a4a" stroke-width="0.95" stroke-linejoin="round" stroke-linecap="round"/>
<path d="M404.10,284.50 L416.95,285.03 L420.16,285.24 L422.96,285.51 L427.75,286.08 L431.72,286.66 L444.38,288.95 L447.17,289.30 L449.57,289.42 L452.78,289.33 L455.57,289.02 L457.14,288.69 L463.75,286.99 L466.12,286.50 L468.49,286.12 L472.09,285.70 L478.90,285.20" fill="none" stroke="#1f74dc" stroke-width="0.95" stroke-linejoin="round" stroke-linecap="round"/>
<path d="M404.10,284.90 L408.10,285.22 L411.29,285.60 L414.06,286.06 L416.40,286.61 L419.46,287.58 L422.45,288.74 L425.01,289.91 L430.75,292.77 L432.23,293.41 L434.10,294.12 L436.79,294.94 L439.13,295.46 L441.12,295.73 L443.52,295.86 L446.32,295.76 L448.71,295.47 L451.85,294.81 L454.55,294.05 L456.03,293.45 L457.48,292.76 L466.40,288.17 L468.25,287.41 L469.77,286.92 L471.72,286.46 L473.70,286.14 L478.90,285.70" fill="none" stroke="#19a676" stroke-width="0.95" stroke-linejoin="round" stroke-linecap="round"/>
<path d="M404.10,285.70 L409.54,289.08 L411.18,290.23 L412.45,291.20 L414.59,293.02 L419.31,297.35 L425.01,302.40 L427.77,304.72 L429.99,306.43 L432.00,307.73 L433.79,308.58 L435.31,309.02 L436.88,309.16 L438.05,309.06 L439.58,308.67 L441.02,308.03 L442.72,306.98 L443.99,306.01 L445.22,304.98 L451.09,299.53 L454.75,296.42 L456.67,294.98 L458.64,293.60 L461.00,292.08 L463.06,290.85 L464.47,290.10 L466.28,289.24 L468.13,288.48 L470.01,287.79 L473.45,286.73 L478.90,285.40" fill="none" stroke="#c77af5" stroke-width="0.95" stroke-linejoin="round" stroke-linecap="round"/>
<path d="M404.10,287.40 L406.72,290.44 L408.41,292.68 L409.50,294.36 L412.98,300.23 L414.75,302.91 L416.59,305.55 L419.03,308.74 L421.41,311.45 L423.37,313.46 L425.14,315.10 L426.67,316.39 L428.30,317.56 L429.69,318.34 L431.17,318.91 L432.71,319.23 L433.89,319.26 L434.67,319.17 L435.44,319.00 L436.17,318.73 L436.88,318.38 L438.16,317.47 L439.57,316.06 L440.54,314.79 L441.40,313.44 L444.00,308.46 L445.20,306.37 L446.50,304.35 L447.89,302.38 L449.88,299.86 L451.76,297.77 L453.77,295.82 L455.62,294.28 L458.26,292.45 L461.04,290.84 L464.28,289.25 L467.98,287.69 L470.24,286.88 L472.57,286.26 L474.54,285.88 L478.90,285.20" fill="none" stroke="#e3a00c" stroke-width="0.95" stroke-linejoin="round" stroke-linecap="round"/>
<rect x="404.00" y="270.00" width="74.90" height="55.80" fill="none" stroke="#555" stroke-width="0.80"/>
<line x1="403.60" y1="325.80" x2="403.60" y2="327.30" stroke="#555" stroke-width="0.60"/>
<text x="403.60" y="330.75" font-size="3.60" text-anchor="middle" font-weight="bold" fill="#222">150</text>
<line x1="418.56" y1="325.80" x2="418.56" y2="327.30" stroke="#555" stroke-width="0.60"/>
<text x="418.56" y="330.75" font-size="3.60" text-anchor="middle" font-weight="bold" fill="#222">200</text>
<line x1="433.52" y1="325.80" x2="433.52" y2="327.30" stroke="#555" stroke-width="0.60"/>
<text x="433.52" y="330.75" font-size="3.60" text-anchor="middle" font-weight="bold" fill="#222">250</text>
<line x1="448.48" y1="325.80" x2="448.48" y2="327.30" stroke="#555" stroke-width="0.60"/>
<text x="448.48" y="330.75" font-size="3.60" text-anchor="middle" font-weight="bold" fill="#222">300</text>
<line x1="463.44" y1="325.80" x2="463.44" y2="327.30" stroke="#555" stroke-width="0.60"/>
<text x="463.44" y="330.75" font-size="3.60" text-anchor="middle" font-weight="bold" fill="#222">350</text>
<line x1="478.40" y1="325.80" x2="478.40" y2="327.30" stroke="#555" stroke-width="0.60"/>
<text x="478.40" y="330.75" font-size="3.60" text-anchor="middle" font-weight="bold" fill="#222">400</text>
<line x1="411.08" y1="325.80" x2="411.08" y2="326.70" stroke="#555" stroke-width="0.50"/>
<line x1="426.04" y1="325.80" x2="426.04" y2="326.70" stroke="#555" stroke-width="0.50"/>
<line x1="441.00" y1="325.80" x2="441.00" y2="326.70" stroke="#555" stroke-width="0.50"/>
<line x1="455.96" y1="325.80" x2="455.96" y2="326.70" stroke="#555" stroke-width="0.50"/>
<line x1="470.92" y1="325.80" x2="470.92" y2="326.70" stroke="#555" stroke-width="0.50"/>
<line x1="402.50" y1="270.30" x2="404.00" y2="270.30" stroke="#555" stroke-width="0.60"/>
<text x="401.70" y="271.52" font-size="3.60" text-anchor="end" font-weight="bold" fill="#222">0.05</text>
<line x1="402.50" y1="281.30" x2="404.00" y2="281.30" stroke="#555" stroke-width="0.60"/>
<text x="401.70" y="282.52" font-size="3.60" text-anchor="end" font-weight="bold" fill="#222">0.00</text>
<line x1="402.50" y1="292.40" x2="404.00" y2="292.40" stroke="#555" stroke-width="0.60"/>
<text x="401.70" y="293.62" font-size="3.60" text-anchor="end" font-weight="bold" fill="#222">−0.05</text>
<line x1="402.50" y1="303.50" x2="404.00" y2="303.50" stroke="#555" stroke-width="0.60"/>
<text x="401.70" y="304.72" font-size="3.60" text-anchor="end" font-weight="bold" fill="#222">−0.10</text>
<line x1="402.50" y1="314.60" x2="404.00" y2="314.60" stroke="#555" stroke-width="0.60"/>
<text x="401.70" y="315.82" font-size="3.60" text-anchor="end" font-weight="bold" fill="#222">−0.15</text>
<line x1="402.50" y1="325.70" x2="404.00" y2="325.70" stroke="#555" stroke-width="0.60"/>
<text x="401.70" y="326.92" font-size="3.60" text-anchor="end" font-weight="bold" fill="#222">−0.20</text>
<text x="441.40" y="335.20" font-size="4.20" text-anchor="middle" font-weight="bold" fill="#222">Temperature(°C)</text>
<text x="393.80" y="297.80" font-size="3.90" text-anchor="middle" font-weight="bold" fill="#222" transform="rotate(-90 393.80 297.80)">DTG(a.u.)</text>
<line x1="434.70" y1="279.90" x2="439.70" y2="284.90" stroke="#555" stroke-width="0.70"/>
<line x1="447.40" y1="280.70" x2="447.40" y2="289.80" stroke="#555" stroke-width="0.70"/>
<line x1="461.50" y1="280.70" x2="454.90" y2="289.80" stroke="#555" stroke-width="0.70"/>
<line x1="454.90" y1="295.60" x2="464.40" y2="295.60" stroke="#444" stroke-width="0.70"/>
<line x1="441.60" y1="307.70" x2="464.40" y2="307.70" stroke="#999" stroke-width="0.70"/>
<line x1="436.70" y1="318.30" x2="464.40" y2="318.30" stroke="#666" stroke-width="0.70"/>
<text x="424.60" y="279.44" font-size="5.40" text-anchor="start" font-weight="bold" fill="#111" stroke="#111" stroke-width="0.08">120h</text>
<text x="442.40" y="279.74" font-size="5.40" text-anchor="start" font-weight="bold" fill="#111" stroke="#111" stroke-width="0.08">168h</text>
<text x="459.70" y="279.74" font-size="5.40" text-anchor="start" font-weight="bold" fill="#111" stroke="#111" stroke-width="0.08">336h</text>
<text x="464.20" y="297.44" font-size="5.40" text-anchor="start" font-weight="bold" fill="#111" stroke="#111" stroke-width="0.08">-72h</text>
<text x="464.20" y="309.54" font-size="5.40" text-anchor="start" font-weight="bold" fill="#111" stroke="#111" stroke-width="0.08">-24h</text>
<text x="464.20" y="320.14" font-size="5.40" text-anchor="start" font-weight="bold" fill="#111" stroke="#111" stroke-width="0.08">-0h</text>
</svg>
</body></html>
